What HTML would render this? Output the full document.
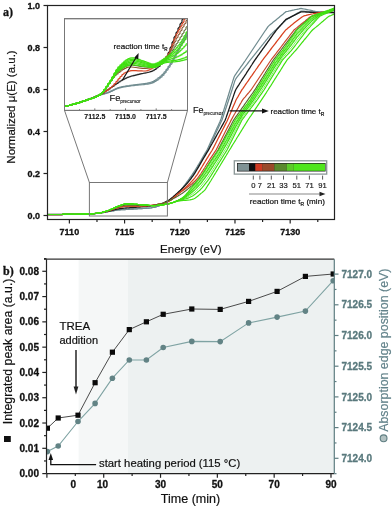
<!DOCTYPE html>
<html><head><meta charset="utf-8"><style>html,body{margin:0;padding:0;background:#fff;width:392px;height:508px;overflow:hidden}svg{display:block;will-change:transform} text{stroke-linejoin:round} .b{}</style></head>
<body><svg width="392" height="508" viewBox="0 0 392 508"><clipPath id="ca"><rect x="47.5" y="5.5" width="287.0" height="214.0"/></clipPath><g clip-path="url(#ca)"><polyline points="47,214.5 48,214.5 49,214.5 50,214.5 51,214.5 52,214.5 53,214.5 54,214.5 55,214.5 56,214.5 57,214.5 58,214.5 59,214.5 60,214.5 61,214.5 62,214.5 63,214.4 64,214.4 65,214.4 66,214.4 67,214.4 68,214.4 69,214.4 70,214.4 71,214.4 72,214.4 73,214.4 74,214.4 75,214.3 76,214.3 77,214.3 78,214.3 79,214.3 80,214.3 81,214.2 82,214.2 83,214.2 84,214.2 85,214.1 86,214.1 87,214.1 88,214.0 89,214.0 90,214.0 91,213.9 92,213.8 93,213.8 94,213.7 95,213.6 96,213.5 97,213.3 98,213.2 99,213.1 100,213.0 101,212.9 102,212.7 103,212.6 104,212.4 105,212.2 106,212.0 107,211.8 108,211.7 109,211.5 110,211.3 111,211.1 112,210.9 113,210.8 114,210.6 115,210.4 116,210.3 117,210.1 118,210.0 119,209.9 120,209.8 121,209.7 122,209.7 123,209.6 124,209.5 125,209.5 126,209.4 127,209.3 128,209.3 129,209.2 130,209.2 131,209.1 132,209.0 133,209.0 134,208.9 135,208.9 136,208.8 137,208.8 138,208.7 139,208.7 140,208.6 141,208.5 142,208.5 143,208.4 144,208.4 145,208.3 146,208.3 147,208.2 148,208.2 149,208.1 150,208.0 151,207.9 152,207.7 153,207.5 154,207.3 155,207.1 156,206.8 157,206.5 158,206.2 159,205.8 160,205.5 161,205.1 162,204.7 163,204.2 164,203.6 165,203.0 166,202.4 167,201.8 168,201.1 169,200.4 170,199.7 171,199.0 172,198.3 173,197.5 174,196.6 175,195.8 176,194.9 177,194.0 178,193.0 179,192.0 180,190.9 181,189.8 182,188.5 183,187.3 184,186.0 185,184.7 186,183.3 187,181.9 188,180.6 189,179.2 190,177.7 191,176.3 192,174.9 193,173.4 194,171.9 195,170.4 196,168.7 197,167.1 198,165.4 199,163.7 200,162.0 201,160.3 202,158.5 203,156.8 204,155.1 205,153.4 206,151.7 207,150.0 208,147.9 209,145.7 210,143.4 211,141.2 212,139.1 213,136.9 214,134.7 215,132.5 216,130.3 217,128.1 218,125.9 219,123.7 220,121.5 221,119.0 222,115.8 223,112.6 224,109.4 225,106.1 226,102.9 227,99.7 228,96.5 229,93.2 230,90.0 231,86.8 232,83.6 233,80.4 234,77.3 235,75.3 236,73.9 237,72.4 238,71.0 239,69.6 240,68.2 241,66.7 242,65.3 243,63.9 244,62.4 245,61.0 246,59.5 247,58.0 248,56.5 249,55.0 250,53.5 251,52.0 252,50.5 253,49.0 254,47.5 255,46.0 256,44.5 257,43.0 258,41.5 259,40.0 260,38.5 261,37.0 262,35.5 263,34.0 264,32.5 265,31.0 266,29.6 267,28.1 268,26.7 269,25.6 270,24.8 271,24.0 272,23.2 273,22.3 274,21.5 275,20.7 276,19.9 277,19.1 278,18.2 279,17.4 280,16.6 281,15.8 282,15.0 283,14.2 284,13.3 285,12.5 286,11.7 287,11.5 288,11.3 289,11.0 290,10.8 291,10.6 292,10.4 293,10.2 294,10.0 295,9.7 296,9.5 297,9.3 298,9.1 299,8.9 300,8.6 301,8.4 302,8.6 303,8.8 304,9.0 305,9.2 306,9.4 307,9.6 308,9.8 309,10.0 310,10.2 311,10.4 312,10.6 313,10.9 314,11.1 315,11.3 316,11.5 317,11.7 318,11.7 319,11.8 320,11.8 321,11.9 322,11.9 323,12.0 324,12.0 325,12.1 326,12.1 327,12.2 328,12.2 329,12.2 330,12.3 331,12.3 332,12.4 333,12.4 334,12.5 335,12.5" fill="none" stroke="#6f8b8f" stroke-width="1.25"/><polyline points="47,214.5 48,214.5 49,214.5 50,214.5 51,214.5 52,214.5 53,214.5 54,214.5 55,214.5 56,214.5 57,214.5 58,214.5 59,214.5 60,214.5 61,214.5 62,214.5 63,214.4 64,214.4 65,214.4 66,214.4 67,214.4 68,214.4 69,214.4 70,214.4 71,214.4 72,214.4 73,214.4 74,214.4 75,214.3 76,214.3 77,214.3 78,214.3 79,214.3 80,214.3 81,214.2 82,214.2 83,214.2 84,214.2 85,214.1 86,214.1 87,214.1 88,214.0 89,214.0 90,214.0 91,213.9 92,213.8 93,213.8 94,213.7 95,213.6 96,213.5 97,213.3 98,213.2 99,213.1 100,213.0 101,212.9 102,212.7 103,212.6 104,212.4 105,212.2 106,212.0 107,211.8 108,211.7 109,211.5 110,211.3 111,211.1 112,210.9 113,210.8 114,210.6 115,210.4 116,210.3 117,210.1 118,210.0 119,209.9 120,209.8 121,209.7 122,209.7 123,209.6 124,209.5 125,209.5 126,209.4 127,209.3 128,209.3 129,209.2 130,209.2 131,209.1 132,209.0 133,209.0 134,208.9 135,208.9 136,208.8 137,208.8 138,208.7 139,208.7 140,208.6 141,208.5 142,208.5 143,208.4 144,208.4 145,208.3 146,208.3 147,208.2 148,208.2 149,208.1 150,208.0 151,207.9 152,207.7 153,207.5 154,207.3 155,207.1 156,206.8 157,206.5 158,206.2 159,205.8 160,205.5 161,205.1 162,204.7 163,204.2 164,203.6 165,203.0 166,202.4 167,201.8 168,201.1 169,200.4 170,199.7 171,199.0 172,198.2 173,197.4 174,196.6 175,195.7 176,194.9 177,193.9 178,193.0 179,192.0 180,191.0 181,189.9 182,188.8 183,187.6 184,186.4 185,185.2 186,183.9 187,182.6 188,181.3 189,180.0 190,178.6 191,177.3 192,175.8 193,174.4 194,172.9 195,171.4 196,169.8 197,168.2 198,166.6 199,164.9 200,163.2 201,161.5 202,159.8 203,158.1 204,156.4 205,154.7 206,153.0 207,151.3 208,149.6 209,147.5 210,145.4 211,143.2 212,141.1 213,139.0 214,136.9 215,134.8 216,132.7 217,130.6 218,128.5 219,126.3 220,124.2 221,122.1 222,120.0 223,117.0 224,114.0 225,111.0 226,108.0 227,105.0 228,102.0 229,99.0 230,96.0 231,93.0 232,90.0 233,86.8 234,83.6 235,80.4 236,78.5 237,77.2 238,75.9 239,74.6 240,73.3 241,72.0 242,70.7 243,69.4 244,68.1 245,66.9 246,65.6 247,64.3 248,63.0 249,61.7 250,60.4 251,59.1 252,57.9 253,56.6 254,55.4 255,54.1 256,52.9 257,51.6 258,50.3 259,49.1 260,47.8 261,46.6 262,45.3 263,44.1 264,42.8 265,41.6 266,40.3 267,39.1 268,37.8 269,36.6 270,35.3 271,34.3 272,33.4 273,32.4 274,31.5 275,30.5 276,29.6 277,28.6 278,27.6 279,26.7 280,25.7 281,24.8 282,23.8 283,22.9 284,21.9 285,21.0 286,20.0 287,19.4 288,18.8 289,18.2 290,17.6 291,17.0 292,16.4 293,15.8 294,15.2 295,14.6 296,14.0 297,13.4 298,12.8 299,12.3 300,11.7 301,11.1 302,11.1 303,11.1 304,11.2 305,11.3 306,11.3 307,11.4 308,11.5 309,11.5 310,11.6 311,11.7 312,11.7 313,11.8 314,11.9 315,11.9 316,12.0 317,12.0 318,12.1 319,12.1 320,12.1 321,12.1 322,12.2 323,12.2 324,12.2 325,12.2 326,12.3 327,12.3 328,12.3 329,12.4 330,12.4 331,12.4 332,12.4 333,12.5 334,12.5 335,12.5" fill="none" stroke="#6f8b8f" stroke-width="1.25"/><polyline points="47,214.5 48,214.5 49,214.5 50,214.5 51,214.5 52,214.5 53,214.5 54,214.5 55,214.5 56,214.5 57,214.5 58,214.5 59,214.5 60,214.5 61,214.5 62,214.5 63,214.4 64,214.4 65,214.4 66,214.4 67,214.4 68,214.4 69,214.4 70,214.4 71,214.4 72,214.4 73,214.4 74,214.4 75,214.3 76,214.3 77,214.3 78,214.3 79,214.3 80,214.3 81,214.2 82,214.2 83,214.2 84,214.2 85,214.1 86,214.1 87,214.1 88,214.0 89,214.0 90,214.0 91,213.9 92,213.8 93,213.7 94,213.6 95,213.5 96,213.4 97,213.3 98,213.2 99,213.0 100,212.9 101,212.8 102,212.6 103,212.4 104,212.2 105,212.0 106,211.7 107,211.5 108,211.3 109,211.0 110,210.8 111,210.6 112,210.3 113,210.1 114,209.8 115,209.6 116,209.4 117,209.2 118,209.0 119,208.8 120,208.7 121,208.6 122,208.4 123,208.3 124,208.2 125,208.1 126,208.0 127,207.9 128,207.8 129,207.8 130,207.7 131,207.6 132,207.5 133,207.5 134,207.4 135,207.4 136,207.3 137,207.2 138,207.2 139,207.1 140,207.0 141,206.9 142,206.8 143,206.7 144,206.7 145,206.6 146,206.5 147,206.4 148,206.2 149,206.1 150,206.0 151,205.9 152,205.7 153,205.5 154,205.4 155,205.2 156,205.0 157,204.7 158,204.5 159,204.3 160,204.0 161,203.7 162,203.4 163,203.0 164,202.6 165,202.2 166,201.7 167,201.2 168,200.7 169,200.1 170,199.4 171,198.6 172,197.8 173,197.0 174,196.1 175,195.2 176,194.3 177,193.4 178,192.5 179,191.6 180,190.7 181,189.7 182,188.7 183,187.7 184,186.7 185,185.7 186,184.6 187,183.5 188,182.3 189,181.1 190,179.9 191,178.6 192,177.2 193,175.8 194,174.3 195,172.8 196,171.2 197,169.5 198,167.8 199,166.1 200,164.4 201,162.6 202,160.9 203,159.2 204,157.5 205,155.8 206,154.1 207,152.4 208,150.8 209,149.1 210,147.3 211,145.5 212,143.8 213,142.0 214,140.2 215,138.4 216,136.6 217,134.8 218,133.0 219,131.2 220,129.5 221,127.7 222,125.9 223,124.1 224,122.3 225,120.5 226,117.9 227,115.0 228,112.1 229,109.1 230,106.2 231,103.2 232,100.3 233,97.4 234,94.4 235,91.5 236,89.2 237,87.7 238,86.1 239,84.6 240,83.0 241,81.5 242,79.9 243,78.4 244,76.9 245,75.3 246,73.8 247,72.2 248,70.7 249,69.1 250,67.6 251,66.0 252,64.5 253,62.9 254,61.4 255,59.9 256,58.5 257,57.1 258,55.7 259,54.3 260,52.9 261,51.5 262,50.1 263,48.7 264,47.3 265,45.9 266,44.5 267,43.1 268,41.7 269,40.3 270,38.9 271,37.5 272,36.1 273,34.7 274,33.3 275,32.0 276,30.6 277,29.3 278,28.2 279,27.1 280,26.0 281,24.9 282,23.8 283,22.6 284,21.5 285,20.4 286,19.3 287,18.8 288,18.3 289,17.8 290,17.3 291,16.8 292,16.3 293,15.8 294,15.3 295,14.8 296,14.3 297,13.8 298,13.3 299,12.8 300,12.3 301,11.8 302,11.8 303,11.8 304,11.9 305,11.9 306,12.0 307,12.1 308,12.1 309,12.2 310,12.3 311,12.3 312,12.4 313,12.4 314,12.5 315,12.6 316,12.6 317,12.6 318,12.6 319,12.6 320,12.6 321,12.6 322,12.6 323,12.6 324,12.6 325,12.6 326,12.5 327,12.5 328,12.5 329,12.5 330,12.5 331,12.5 332,12.5 333,12.5 334,12.5 335,12.5" fill="none" stroke="#1a1a1a" stroke-width="1.3"/><polyline points="47,214.5 48,214.5 49,214.5 50,214.5 51,214.5 52,214.5 53,214.5 54,214.5 55,214.5 56,214.5 57,214.5 58,214.5 59,214.5 60,214.5 61,214.5 62,214.5 63,214.4 64,214.4 65,214.4 66,214.4 67,214.4 68,214.4 69,214.4 70,214.4 71,214.4 72,214.4 73,214.4 74,214.4 75,214.3 76,214.3 77,214.3 78,214.3 79,214.3 80,214.3 81,214.2 82,214.2 83,214.2 84,214.2 85,214.1 86,214.1 87,214.1 88,214.0 89,214.0 90,214.0 91,213.9 92,213.8 93,213.7 94,213.7 95,213.5 96,213.4 97,213.3 98,213.2 99,213.0 100,212.9 101,212.7 102,212.5 103,212.3 104,212.1 105,211.8 106,211.5 107,211.2 108,210.9 109,210.6 110,210.3 111,210.0 112,209.6 113,209.3 114,208.9 115,208.5 116,208.2 117,207.9 118,207.6 119,207.4 120,207.2 121,207.0 122,206.8 123,206.6 124,206.5 125,206.4 126,206.3 127,206.3 128,206.2 129,206.2 130,206.2 131,206.2 132,206.1 133,206.1 134,206.1 135,206.1 136,206.1 137,206.1 138,206.1 139,206.0 140,206.0 141,206.0 142,205.9 143,205.9 144,205.9 145,205.8 146,205.8 147,205.7 148,205.6 149,205.6 150,205.5 151,205.4 152,205.3 153,205.2 154,205.1 155,204.9 156,204.7 157,204.6 158,204.4 159,204.2 160,204.0 161,203.8 162,203.6 163,203.4 164,203.1 165,202.8 166,202.5 167,202.2 168,201.7 169,201.2 170,200.6 171,199.9 172,199.2 173,198.3 174,197.5 175,196.6 176,195.7 177,194.8 178,194.0 179,193.2 180,192.3 181,191.5 182,190.7 183,189.8 184,188.9 185,188.1 186,187.2 187,186.2 188,185.3 189,184.3 190,183.3 191,182.2 192,181.1 193,180.0 194,178.8 195,177.6 196,176.2 197,174.8 198,173.3 199,171.7 200,170.1 201,168.4 202,166.8 203,165.1 204,163.4 205,161.8 206,160.1 207,158.4 208,156.8 209,155.2 210,153.6 211,152.0 212,150.5 213,148.6 214,146.7 215,144.7 216,142.7 217,140.8 218,138.8 219,136.9 220,134.9 221,132.9 222,131.0 223,129.0 224,127.1 225,125.1 226,123.1 227,121.2 228,119.0 229,116.7 230,114.3 231,111.9 232,109.5 233,107.1 234,104.8 235,102.4 236,100.0 237,98.3 238,96.6 239,94.8 240,93.1 241,91.4 242,89.7 243,88.3 244,86.8 245,85.4 246,83.9 247,82.5 248,81.1 249,79.6 250,78.2 251,76.7 252,75.3 253,73.8 254,72.4 255,71.0 256,69.5 257,68.1 258,66.6 259,65.2 260,63.8 261,62.3 262,60.9 263,59.5 264,58.2 265,56.9 266,55.6 267,54.3 268,53.0 269,51.7 270,50.3 271,49.0 272,47.7 273,46.4 274,45.1 275,43.8 276,42.5 277,41.2 278,39.9 279,38.6 280,37.3 281,36.0 282,34.7 283,33.4 284,32.1 285,30.8 286,29.7 287,28.9 288,28.0 289,27.2 290,26.4 291,25.6 292,24.8 293,23.9 294,23.1 295,22.3 296,21.5 297,20.7 298,19.9 299,19.2 300,18.5 301,17.8 302,17.1 303,16.4 304,15.8 305,15.6 306,15.4 307,15.1 308,14.9 309,14.7 310,14.5 311,14.2 312,14.0 313,13.8 314,13.5 315,13.3 316,13.2 317,13.0 318,12.8 319,12.6 320,12.5 321,12.3 322,12.1 323,12.0 324,11.8 325,11.6 326,11.5 327,11.3 328,11.1 329,10.9 330,10.8 331,10.6 332,10.4 333,10.3 334,10.1 335,10.0" fill="none" stroke="#d8401e" stroke-width="1.25"/><polyline points="47,214.5 48,214.5 49,214.5 50,214.5 51,214.5 52,214.5 53,214.5 54,214.5 55,214.5 56,214.5 57,214.5 58,214.5 59,214.5 60,214.5 61,214.5 62,214.5 63,214.4 64,214.4 65,214.4 66,214.4 67,214.4 68,214.4 69,214.4 70,214.4 71,214.4 72,214.4 73,214.4 74,214.4 75,214.3 76,214.3 77,214.3 78,214.3 79,214.3 80,214.3 81,214.2 82,214.2 83,214.2 84,214.2 85,214.1 86,214.1 87,214.1 88,214.0 89,214.0 90,214.0 91,213.9 92,213.8 93,213.7 94,213.7 95,213.5 96,213.4 97,213.3 98,213.2 99,213.0 100,212.9 101,212.7 102,212.5 103,212.3 104,212.1 105,211.8 106,211.5 107,211.2 108,210.9 109,210.6 110,210.3 111,210.0 112,209.6 113,209.3 114,208.9 115,208.5 116,208.2 117,207.9 118,207.6 119,207.4 120,207.2 121,207.0 122,206.8 123,206.6 124,206.5 125,206.4 126,206.3 127,206.3 128,206.2 129,206.2 130,206.2 131,206.2 132,206.1 133,206.1 134,206.1 135,206.1 136,206.1 137,206.1 138,206.1 139,206.0 140,206.0 141,206.0 142,205.9 143,205.9 144,205.9 145,205.8 146,205.8 147,205.7 148,205.6 149,205.6 150,205.5 151,205.4 152,205.3 153,205.2 154,205.1 155,204.9 156,204.7 157,204.6 158,204.4 159,204.2 160,204.0 161,203.8 162,203.6 163,203.4 164,203.1 165,202.8 166,202.5 167,202.2 168,201.7 169,201.2 170,200.6 171,199.9 172,199.1 173,198.2 174,197.4 175,196.5 176,195.6 177,194.8 178,194.0 179,193.2 180,192.5 181,191.8 182,191.1 183,190.4 184,189.7 185,189.0 186,188.3 187,187.6 188,186.8 189,186.1 190,185.3 191,184.5 192,183.7 193,182.8 194,181.9 195,181.0 196,180.0 197,178.9 198,177.7 199,176.3 200,174.9 201,173.5 202,171.9 203,170.4 204,168.8 205,167.2 206,165.5 207,163.9 208,162.3 209,160.7 210,159.1 211,157.6 212,156.1 213,154.6 214,153.1 215,151.6 216,150.1 217,148.2 218,146.2 219,144.2 220,142.3 221,140.3 222,138.3 223,136.3 224,134.3 225,132.3 226,130.3 227,128.3 228,126.4 229,124.4 230,122.4 231,120.4 232,118.6 233,116.8 234,115.0 235,113.3 236,111.5 237,109.7 238,108.0 239,106.2 240,104.4 241,102.7 242,100.9 243,99.4 244,98.2 245,97.1 246,95.9 247,94.7 248,93.5 249,92.4 250,91.2 251,90.0 252,88.5 253,87.0 254,85.5 255,84.0 256,82.5 257,81.0 258,79.5 259,78.0 260,76.5 261,75.0 262,73.5 263,72.0 264,70.5 265,69.0 266,67.5 267,66.0 268,64.5 269,63.0 270,61.5 271,60.0 272,58.7 273,57.4 274,56.1 275,54.8 276,53.5 277,52.2 278,50.9 279,49.6 280,48.3 281,47.0 282,45.7 283,44.3 284,43.0 285,41.7 286,40.4 287,39.1 288,37.8 289,36.5 290,35.2 291,33.9 292,32.6 293,31.3 294,30.0 295,29.2 296,28.4 297,27.6 298,26.8 299,25.9 300,25.1 301,24.3 302,23.5 303,22.7 304,21.9 305,21.1 306,20.2 307,19.4 308,18.6 309,17.8 310,17.0 311,16.7 312,16.4 313,16.1 314,15.9 315,15.6 316,15.3 317,15.0 318,14.7 319,14.4 320,14.1 321,13.9 322,13.6 323,13.3 324,13.0 325,12.7 326,12.4 327,12.1 328,11.9 329,11.6 330,11.3 331,11.0 332,10.7 333,10.4 334,10.1 335,10.0" fill="none" stroke="#c8482a" stroke-width="1.2"/><polyline points="47,214.5 48,214.5 49,214.5 50,214.5 51,214.5 52,214.5 53,214.5 54,214.5 55,214.5 56,214.5 57,214.5 58,214.5 59,214.5 60,214.5 61,214.5 62,214.5 63,214.4 64,214.4 65,214.4 66,214.4 67,214.4 68,214.4 69,214.4 70,214.4 71,214.4 72,214.4 73,214.4 74,214.4 75,214.3 76,214.3 77,214.3 78,214.3 79,214.3 80,214.3 81,214.2 82,214.2 83,214.2 84,214.2 85,214.1 86,214.1 87,214.1 88,214.0 89,214.0 90,214.0 91,213.9 92,213.8 93,213.7 94,213.6 95,213.5 96,213.4 97,213.3 98,213.1 99,213.0 100,212.9 101,212.7 102,212.5 103,212.2 104,212.0 105,211.7 106,211.4 107,211.0 108,210.7 109,210.4 110,210.1 111,209.7 112,209.3 113,208.9 114,208.5 115,208.0 116,207.6 117,207.3 118,206.9 119,206.7 120,206.3 121,206.0 122,205.8 123,205.5 124,205.3 125,205.2 126,205.2 127,205.2 128,205.2 129,205.2 130,205.2 131,205.2 132,205.2 133,205.2 134,205.2 135,205.2 136,205.2 137,205.3 138,205.3 139,205.3 140,205.3 141,205.3 142,205.3 143,205.4 144,205.4 145,205.4 146,205.5 147,205.5 148,205.5 149,205.5 150,205.6 151,205.5 152,205.5 153,205.4 154,205.2 155,205.0 156,204.9 157,204.7 158,204.4 159,204.2 160,204.0 161,203.8 162,203.5 163,203.2 164,202.8 165,202.5 166,202.1 167,201.7 168,201.2 169,200.8 170,200.3 171,199.9 172,199.4 173,198.8 174,198.3 175,197.7 176,197.2 177,196.6 178,196.0 179,195.3 180,194.7 181,194.0 182,193.4 183,192.7 184,191.9 185,191.2 186,190.5 187,189.7 188,188.9 189,188.1 190,187.3 191,186.4 192,185.6 193,184.7 194,183.8 195,182.9 196,181.9 197,180.9 198,180.0 199,178.8 200,177.6 201,176.2 202,174.8 203,173.3 204,171.7 205,170.1 206,168.5 207,166.9 208,165.2 209,163.6 210,162.0 211,160.5 212,159.0 213,157.5 214,156.0 215,154.5 216,153.0 217,151.5 218,150.0 219,148.1 220,146.2 221,144.3 222,142.4 223,140.4 224,138.5 225,136.6 226,134.7 227,132.8 228,130.9 229,129.0 230,127.1 231,125.2 232,123.2 233,121.3 234,119.6 235,118.2 236,116.7 237,115.3 238,113.9 239,112.5 240,111.0 241,109.6 242,108.2 243,106.8 244,105.4 245,103.9 246,102.5 247,101.1 248,99.7 249,98.2 250,96.8 251,95.4 252,94.0 253,92.6 254,91.1 255,89.7 256,88.1 257,86.4 258,84.8 259,83.2 260,81.6 261,79.9 262,78.3 263,76.7 264,75.1 265,73.5 266,71.8 267,70.2 268,68.6 269,67.0 270,65.4 271,63.7 272,62.1 273,60.5 274,59.1 275,57.8 276,56.5 277,55.2 278,53.9 279,52.6 280,51.3 281,50.0 282,48.7 283,47.3 284,46.0 285,44.7 286,43.4 287,42.1 288,40.8 289,39.5 290,38.2 291,36.9 292,35.6 293,34.3 294,33.0 295,31.7 296,30.4 297,29.4 298,28.5 299,27.6 300,26.7 301,25.8 302,24.9 303,24.0 304,23.1 305,22.2 306,21.4 307,20.5 308,19.6 309,18.7 310,17.8 311,16.9 312,16.0 313,15.7 314,15.4 315,15.1 316,14.8 317,14.4 318,14.1 319,13.8 320,13.5 321,13.2 322,12.9 323,12.6 324,12.3 325,12.0 326,11.6 327,11.3 328,11.0 329,10.7 330,10.4 331,10.1 332,9.8 333,9.5 334,9.2 335,9.0" fill="none" stroke="#5a6a30" stroke-width="1.2"/><polyline points="47,214.5 48,214.5 49,214.5 50,214.5 51,214.5 52,214.5 53,214.5 54,214.5 55,214.5 56,214.5 57,214.5 58,214.5 59,214.5 60,214.5 61,214.5 62,214.5 63,214.4 64,214.4 65,214.4 66,214.4 67,214.4 68,214.4 69,214.4 70,214.4 71,214.4 72,214.4 73,214.4 74,214.4 75,214.3 76,214.3 77,214.3 78,214.3 79,214.3 80,214.3 81,214.2 82,214.2 83,214.2 84,214.2 85,214.1 86,214.1 87,214.1 88,214.0 89,214.0 90,214.0 91,213.9 92,213.8 93,213.7 94,213.6 95,213.5 96,213.4 97,213.3 98,213.1 99,213.0 100,212.8 101,212.6 102,212.4 103,212.1 104,211.9 105,211.5 106,211.2 107,210.9 108,210.5 109,210.2 110,209.8 111,209.4 112,209.0 113,208.5 114,208.0 115,207.6 116,207.1 117,206.7 118,206.3 119,205.9 120,205.6 121,205.2 122,204.8 123,204.5 124,204.3 125,204.1 126,204.0 127,204.0 128,204.0 129,204.0 130,204.1 131,204.1 132,204.1 133,204.2 134,204.3 135,204.3 136,204.4 137,204.4 138,204.5 139,204.5 140,204.6 141,204.7 142,204.7 143,204.8 144,204.9 145,205.0 146,205.1 147,205.2 148,205.3 149,205.4 150,205.5 151,205.5 152,205.6 153,205.6 154,205.6 155,205.6 156,205.5 157,205.5 158,205.4 159,205.3 160,205.2 161,205.1 162,204.9 163,204.8 164,204.6 165,204.4 166,204.3 167,204.1 168,203.9 169,203.7 170,203.4 171,203.1 172,202.8 173,202.5 174,202.1 175,201.7 176,201.3 177,200.8 178,200.4 179,199.9 180,199.4 181,198.8 182,198.3 183,197.6 184,196.8 185,196.0 186,195.0 187,194.0 188,192.9 189,191.8 190,190.7 191,189.7 192,188.6 193,187.5 194,186.4 195,185.3 196,184.1 197,182.9 198,181.6 199,180.4 200,179.1 201,177.7 202,176.3 203,174.9 204,173.5 205,172.1 206,170.6 207,169.1 208,167.7 209,166.2 210,164.7 211,163.2 212,161.7 213,160.2 214,158.8 215,157.3 216,155.8 217,154.4 218,152.9 219,151.3 220,149.6 221,147.8 222,146.0 223,144.2 224,142.4 225,140.7 226,138.9 227,137.1 228,135.3 229,133.4 230,131.6 231,129.8 232,127.9 233,126.1 234,124.3 235,122.4 236,120.9 237,119.4 238,117.9 239,116.5 240,115.0 241,113.6 242,112.1 243,110.7 244,109.4 245,108.0 246,106.6 247,105.3 248,103.9 249,102.6 250,101.2 251,99.6 252,98.1 253,96.6 254,95.1 255,93.5 256,92.0 257,90.4 258,88.9 259,87.3 260,85.7 261,84.1 262,82.5 263,81.0 264,79.4 265,77.8 266,76.2 267,74.6 268,72.9 269,71.3 270,69.7 271,68.1 272,66.5 273,64.9 274,63.3 275,61.7 276,60.4 277,59.1 278,57.8 279,56.4 280,55.1 281,53.8 282,52.5 283,51.2 284,49.8 285,48.5 286,47.1 287,45.7 288,44.4 289,43.0 290,41.6 291,40.2 292,38.9 293,37.5 294,36.1 295,34.7 296,33.2 297,31.8 298,30.9 299,29.9 300,28.9 301,27.9 302,26.9 303,25.9 304,24.9 305,23.9 306,23.0 307,22.0 308,21.0 309,20.1 310,19.1 311,18.2 312,17.2 313,16.7 314,16.3 315,15.8 316,15.4 317,14.9 318,14.5 319,14.0 320,13.6 321,13.2 322,12.8 323,12.5 324,12.1 325,11.7 326,11.4 327,11.0 328,10.6 329,10.3 330,9.9 331,9.6 332,9.2 333,8.8 334,8.5 335,8.3" fill="none" stroke="#5ae836" stroke-width="0.8"/><polyline points="47,214.5 48,214.5 49,214.5 50,214.5 51,214.5 52,214.5 53,214.5 54,214.5 55,214.5 56,214.5 57,214.5 58,214.5 59,214.5 60,214.5 61,214.5 62,214.5 63,214.4 64,214.4 65,214.4 66,214.4 67,214.4 68,214.4 69,214.4 70,214.4 71,214.4 72,214.4 73,214.4 74,214.4 75,214.3 76,214.3 77,214.3 78,214.3 79,214.3 80,214.3 81,214.2 82,214.2 83,214.2 84,214.2 85,214.1 86,214.1 87,214.1 88,214.0 89,214.0 90,214.0 91,213.9 92,213.8 93,213.7 94,213.6 95,213.5 96,213.4 97,213.3 98,213.1 99,213.0 100,212.8 101,212.6 102,212.4 103,212.1 104,211.9 105,211.5 106,211.2 107,210.9 108,210.5 109,210.2 110,209.8 111,209.4 112,209.0 113,208.5 114,208.0 115,207.6 116,207.1 117,206.7 118,206.3 119,205.9 120,205.6 121,205.2 122,204.8 123,204.5 124,204.3 125,204.1 126,204.0 127,204.0 128,204.0 129,204.0 130,204.1 131,204.1 132,204.1 133,204.2 134,204.3 135,204.3 136,204.4 137,204.4 138,204.5 139,204.5 140,204.6 141,204.7 142,204.7 143,204.8 144,204.9 145,205.0 146,205.1 147,205.2 148,205.3 149,205.4 150,205.5 151,205.5 152,205.6 153,205.6 154,205.6 155,205.6 156,205.5 157,205.5 158,205.4 159,205.3 160,205.2 161,205.1 162,204.9 163,204.8 164,204.6 165,204.4 166,204.2 167,204.1 168,203.9 169,203.7 170,203.4 171,203.1 172,202.8 173,202.5 174,202.2 175,201.8 176,201.4 177,201.0 178,200.6 179,200.1 180,199.7 181,199.3 182,198.8 183,198.3 184,197.7 185,197.0 186,196.2 187,195.4 188,194.6 189,193.7 190,192.9 191,192.0 192,191.1 193,190.2 194,189.2 195,188.2 196,187.1 197,186.0 198,184.9 199,183.8 200,182.6 201,181.4 202,180.1 203,178.7 204,177.4 205,176.0 206,174.6 207,173.2 208,171.8 209,170.3 210,168.8 211,167.3 212,165.7 213,164.2 214,162.7 215,161.2 216,159.7 217,158.2 218,156.7 219,155.1 220,153.4 221,151.6 222,149.9 223,148.2 224,146.5 225,144.7 226,143.0 227,141.3 228,139.4 229,137.5 230,135.6 231,133.7 232,131.9 233,130.0 234,128.1 235,126.2 236,124.5 237,122.8 238,121.2 239,119.6 240,117.9 241,116.3 242,114.7 243,113.3 244,112.0 245,110.6 246,109.3 247,107.9 248,106.5 249,105.2 250,103.8 251,102.4 252,100.9 253,99.4 254,98.0 255,96.5 256,95.0 257,93.5 258,92.0 259,90.5 260,89.0 261,87.4 262,85.9 263,84.4 264,82.8 265,81.2 266,79.6 267,78.0 268,76.4 269,74.8 270,73.2 271,71.6 272,69.9 273,68.3 274,66.7 275,65.1 276,63.7 277,62.3 278,60.9 279,59.4 280,58.0 281,56.6 282,55.2 283,53.9 284,52.6 285,51.3 286,50.1 287,48.8 288,47.5 289,46.2 290,45.0 291,43.7 292,42.4 293,41.0 294,39.7 295,38.3 296,36.9 297,35.5 298,34.4 299,33.3 300,32.2 301,31.2 302,30.1 303,29.0 304,27.9 305,26.8 306,25.7 307,24.6 308,23.6 309,22.6 310,21.6 311,20.6 312,19.6 313,19.0 314,18.3 315,17.6 316,17.0 317,16.3 318,15.7 319,15.0 320,14.4 321,14.0 322,13.6 323,13.2 324,12.8 325,12.5 326,12.1 327,11.7 328,11.3 329,10.9 330,10.6 331,10.2 332,9.8 333,9.4 334,9.0 335,8.8" fill="none" stroke="#5ae836" stroke-width="0.8"/><polyline points="47,214.5 48,214.5 49,214.5 50,214.5 51,214.5 52,214.5 53,214.5 54,214.5 55,214.5 56,214.5 57,214.5 58,214.5 59,214.5 60,214.5 61,214.5 62,214.5 63,214.4 64,214.4 65,214.4 66,214.4 67,214.4 68,214.4 69,214.4 70,214.4 71,214.4 72,214.4 73,214.4 74,214.4 75,214.3 76,214.3 77,214.3 78,214.3 79,214.3 80,214.3 81,214.2 82,214.2 83,214.2 84,214.2 85,214.1 86,214.1 87,214.1 88,214.0 89,214.0 90,214.0 91,213.9 92,213.8 93,213.7 94,213.6 95,213.5 96,213.4 97,213.3 98,213.1 99,213.0 100,212.8 101,212.6 102,212.4 103,212.1 104,211.9 105,211.5 106,211.2 107,210.9 108,210.5 109,210.2 110,209.8 111,209.4 112,209.0 113,208.5 114,208.0 115,207.6 116,207.1 117,206.7 118,206.3 119,205.9 120,205.6 121,205.2 122,204.8 123,204.5 124,204.3 125,204.1 126,204.0 127,204.0 128,204.0 129,204.0 130,204.1 131,204.1 132,204.1 133,204.2 134,204.3 135,204.3 136,204.4 137,204.4 138,204.5 139,204.5 140,204.6 141,204.7 142,204.7 143,204.8 144,204.9 145,205.0 146,205.1 147,205.2 148,205.3 149,205.4 150,205.5 151,205.5 152,205.6 153,205.6 154,205.6 155,205.6 156,205.5 157,205.5 158,205.4 159,205.3 160,205.2 161,205.0 162,204.9 163,204.7 164,204.6 165,204.4 166,204.2 167,204.1 168,203.9 169,203.7 170,203.4 171,203.2 172,202.9 173,202.6 174,202.2 175,201.9 176,201.5 177,201.2 178,200.8 179,200.5 180,200.2 181,199.8 182,199.5 183,199.1 184,198.7 185,198.3 186,197.8 187,197.3 188,196.7 189,196.2 190,195.6 191,195.0 192,194.3 193,193.6 194,192.8 195,192.0 196,191.1 197,190.1 198,189.2 199,188.2 200,187.2 201,186.1 202,184.9 203,183.6 204,182.3 205,181.0 206,179.7 207,178.4 208,177.1 209,175.6 210,174.0 211,172.5 212,170.9 213,169.3 214,167.8 215,166.2 216,164.6 217,163.1 218,161.5 219,159.9 220,158.2 221,156.6 222,154.9 223,153.3 224,151.6 225,150.0 226,148.3 227,146.7 228,144.7 229,142.8 230,140.8 231,138.9 232,136.9 233,135.0 234,133.0 235,131.0 236,129.1 237,127.3 238,125.4 239,123.6 240,121.7 241,119.8 242,118.0 243,116.6 244,115.3 245,114.0 246,112.6 247,111.3 248,109.9 249,108.6 250,107.2 251,105.9 252,104.5 253,103.1 254,101.7 255,100.3 256,98.9 257,97.6 258,96.1 259,94.6 260,93.2 261,91.7 262,90.2 263,88.7 264,87.3 265,85.7 266,84.0 267,82.4 268,80.8 269,79.2 270,77.6 271,76.0 272,74.3 273,72.7 274,71.1 275,69.5 276,67.9 277,66.4 278,64.9 279,63.3 280,61.8 281,60.2 282,58.7 283,57.3 284,56.2 285,55.0 286,53.9 287,52.7 288,51.6 289,50.4 290,49.3 291,48.1 292,47.0 293,45.6 294,44.3 295,42.9 296,41.6 297,40.3 298,39.0 299,37.8 300,36.6 301,35.3 302,34.1 303,32.9 304,31.6 305,30.4 306,29.2 307,27.9 308,26.9 309,25.9 310,24.8 311,23.8 312,22.7 313,21.8 314,20.9 315,20.0 316,19.0 317,18.1 318,17.2 319,16.3 320,15.4 321,15.0 322,14.6 323,14.2 324,13.8 325,13.4 326,13.0 327,12.6 328,12.2 329,11.8 330,11.4 331,11.0 332,10.6 333,10.2 334,9.8 335,9.6" fill="none" stroke="#5ae836" stroke-width="0.8"/><polyline points="47,214.5 48,214.5 49,214.5 50,214.5 51,214.5 52,214.5 53,214.5 54,214.5 55,214.5 56,214.5 57,214.5 58,214.5 59,214.5 60,214.5 61,214.5 62,214.5 63,214.4 64,214.4 65,214.4 66,214.4 67,214.4 68,214.4 69,214.4 70,214.4 71,214.4 72,214.4 73,214.4 74,214.4 75,214.3 76,214.3 77,214.3 78,214.3 79,214.3 80,214.3 81,214.2 82,214.2 83,214.2 84,214.2 85,214.1 86,214.1 87,214.1 88,214.0 89,214.0 90,214.0 91,213.9 92,213.8 93,213.7 94,213.6 95,213.5 96,213.4 97,213.3 98,213.1 99,213.0 100,212.8 101,212.6 102,212.4 103,212.1 104,211.9 105,211.5 106,211.2 107,210.9 108,210.5 109,210.2 110,209.8 111,209.4 112,209.0 113,208.5 114,208.0 115,207.6 116,207.1 117,206.7 118,206.3 119,205.9 120,205.6 121,205.2 122,204.8 123,204.5 124,204.3 125,204.1 126,204.0 127,204.0 128,204.0 129,204.0 130,204.1 131,204.1 132,204.1 133,204.2 134,204.3 135,204.3 136,204.4 137,204.4 138,204.5 139,204.5 140,204.6 141,204.7 142,204.7 143,204.8 144,204.9 145,205.0 146,205.1 147,205.2 148,205.3 149,205.4 150,205.5 151,205.5 152,205.6 153,205.6 154,205.6 155,205.6 156,205.5 157,205.5 158,205.4 159,205.3 160,205.2 161,205.1 162,204.9 163,204.8 164,204.6 165,204.4 166,204.3 167,204.1 168,203.9 169,203.7 170,203.4 171,203.1 172,202.8 173,202.5 174,202.1 175,201.7 176,201.2 177,200.7 178,200.3 179,199.7 180,199.2 181,198.6 182,198.0 183,197.3 184,196.4 185,195.5 186,194.4 187,193.2 188,192.1 189,190.9 190,189.7 191,188.5 192,187.4 193,186.2 194,185.0 195,183.8 196,182.6 197,181.3 198,180.0 199,178.7 200,177.3 201,175.9 202,174.5 203,173.0 204,171.6 205,170.1 206,168.6 207,167.1 208,165.6 209,164.1 210,162.6 211,161.2 212,159.7 213,158.3 214,156.8 215,155.4 216,153.9 217,152.5 218,151.0 219,149.5 220,147.7 221,145.8 222,144.0 223,142.2 224,140.4 225,138.6 226,136.8 227,135.0 228,133.2 229,131.4 230,129.6 231,127.8 232,126.0 233,124.2 234,122.3 235,120.5 236,119.0 237,117.7 238,116.3 239,114.9 240,113.6 241,112.2 242,110.8 243,109.5 244,108.1 245,106.7 246,105.3 247,104.0 248,102.6 249,101.2 250,99.8 251,98.3 252,96.7 253,95.2 254,93.6 255,92.0 256,90.5 257,88.9 258,87.3 259,85.7 260,84.1 261,82.5 262,80.9 263,79.3 264,77.6 265,76.0 266,74.4 267,72.8 268,71.2 269,69.6 270,68.0 271,66.4 272,64.8 273,63.2 274,61.6 275,60.0 276,58.7 277,57.5 278,56.2 279,54.9 280,53.7 281,52.4 282,51.1 283,49.9 284,48.4 285,47.0 286,45.6 287,44.2 288,42.8 289,41.3 290,39.9 291,38.5 292,37.1 293,35.7 294,34.3 295,32.8 296,31.4 297,30.0 298,29.1 299,28.1 300,27.2 301,26.3 302,25.3 303,24.4 304,23.5 305,22.5 306,21.6 307,20.7 308,19.7 309,18.8 310,17.9 311,16.9 312,16.0 313,15.6 314,15.3 315,14.9 316,14.6 317,14.2 318,13.9 319,13.5 320,13.2 321,12.8 322,12.4 323,12.1 324,11.7 325,11.4 326,11.0 327,10.7 328,10.3 329,10.0 330,9.6 331,9.2 332,8.9 333,8.5 334,8.2 335,8.0" fill="none" stroke="#3fe010" stroke-width="1.2"/><polyline points="47,214.5 48,214.5 49,214.5 50,214.5 51,214.5 52,214.5 53,214.5 54,214.5 55,214.5 56,214.5 57,214.5 58,214.5 59,214.5 60,214.5 61,214.5 62,214.5 63,214.4 64,214.4 65,214.4 66,214.4 67,214.4 68,214.4 69,214.4 70,214.4 71,214.4 72,214.4 73,214.4 74,214.4 75,214.3 76,214.3 77,214.3 78,214.3 79,214.3 80,214.3 81,214.2 82,214.2 83,214.2 84,214.2 85,214.1 86,214.1 87,214.1 88,214.0 89,214.0 90,214.0 91,213.9 92,213.8 93,213.7 94,213.6 95,213.5 96,213.4 97,213.3 98,213.1 99,213.0 100,212.8 101,212.6 102,212.4 103,212.1 104,211.9 105,211.5 106,211.2 107,210.9 108,210.5 109,210.2 110,209.8 111,209.4 112,209.0 113,208.5 114,208.0 115,207.6 116,207.1 117,206.7 118,206.3 119,205.9 120,205.6 121,205.2 122,204.8 123,204.5 124,204.3 125,204.1 126,204.0 127,204.0 128,204.0 129,204.0 130,204.1 131,204.1 132,204.1 133,204.2 134,204.3 135,204.3 136,204.4 137,204.4 138,204.5 139,204.5 140,204.6 141,204.7 142,204.7 143,204.8 144,204.9 145,205.0 146,205.1 147,205.2 148,205.3 149,205.4 150,205.5 151,205.5 152,205.6 153,205.6 154,205.6 155,205.6 156,205.5 157,205.5 158,205.4 159,205.3 160,205.2 161,205.1 162,204.9 163,204.8 164,204.6 165,204.4 166,204.2 167,204.1 168,203.9 169,203.7 170,203.4 171,203.1 172,202.8 173,202.5 174,202.1 175,201.7 176,201.3 177,200.9 178,200.5 179,200.0 180,199.5 181,199.0 182,198.5 183,197.9 184,197.3 185,196.5 186,195.6 187,194.7 188,193.7 189,192.8 190,191.8 191,190.9 192,189.9 193,188.9 194,187.8 195,186.7 196,185.6 197,184.5 198,183.3 199,182.1 200,180.8 201,179.5 202,178.2 203,176.8 204,175.4 205,174.0 206,172.6 207,171.2 208,169.7 209,168.2 210,166.7 211,165.2 212,163.7 213,162.2 214,160.7 215,159.3 216,157.8 217,156.3 218,154.8 219,153.2 220,151.5 221,149.7 222,148.0 223,146.2 224,144.5 225,142.7 226,141.0 227,139.2 228,137.3 229,135.5 230,133.6 231,131.8 232,129.9 233,128.0 234,126.2 235,124.3 236,122.7 237,121.1 238,119.6 239,118.0 240,116.5 241,114.9 242,113.4 243,112.0 244,110.7 245,109.3 246,108.0 247,106.6 248,105.2 249,103.9 250,102.5 251,101.0 252,99.5 253,98.0 254,96.5 255,95.0 256,93.5 257,92.0 258,90.4 259,88.9 260,87.3 261,85.8 262,84.2 263,82.7 264,81.1 265,79.5 266,77.9 267,76.3 268,74.7 269,73.1 270,71.5 271,69.8 272,68.2 273,66.6 274,65.0 275,63.4 276,62.0 277,60.7 278,59.3 279,57.9 280,56.6 281,55.2 282,53.8 283,52.5 284,51.2 285,49.9 286,48.6 287,47.3 288,45.9 289,44.6 290,43.3 291,42.0 292,40.6 293,39.2 294,37.9 295,36.5 296,35.1 297,33.7 298,32.6 299,31.6 300,30.6 301,29.5 302,28.5 303,27.4 304,26.4 305,25.4 306,24.3 307,23.3 308,22.3 309,21.3 310,20.4 311,19.4 312,18.4 313,17.9 314,17.3 315,16.7 316,16.2 317,15.6 318,15.1 319,14.5 320,14.0 321,13.6 322,13.2 323,12.8 324,12.5 325,12.1 326,11.7 327,11.3 328,11.0 329,10.6 330,10.2 331,9.9 332,9.5 333,9.1 334,8.7 335,8.6" fill="none" stroke="#3fe010" stroke-width="1.2"/><polyline points="47,214.5 48,214.5 49,214.5 50,214.5 51,214.5 52,214.5 53,214.5 54,214.5 55,214.5 56,214.5 57,214.5 58,214.5 59,214.5 60,214.5 61,214.5 62,214.5 63,214.4 64,214.4 65,214.4 66,214.4 67,214.4 68,214.4 69,214.4 70,214.4 71,214.4 72,214.4 73,214.4 74,214.4 75,214.3 76,214.3 77,214.3 78,214.3 79,214.3 80,214.3 81,214.2 82,214.2 83,214.2 84,214.2 85,214.1 86,214.1 87,214.1 88,214.0 89,214.0 90,214.0 91,213.9 92,213.8 93,213.7 94,213.6 95,213.5 96,213.4 97,213.3 98,213.1 99,213.0 100,212.8 101,212.6 102,212.4 103,212.1 104,211.9 105,211.5 106,211.2 107,210.9 108,210.5 109,210.2 110,209.8 111,209.4 112,209.0 113,208.5 114,208.0 115,207.6 116,207.1 117,206.7 118,206.3 119,205.9 120,205.6 121,205.2 122,204.8 123,204.5 124,204.3 125,204.1 126,204.0 127,204.0 128,204.0 129,204.0 130,204.1 131,204.1 132,204.1 133,204.2 134,204.3 135,204.3 136,204.4 137,204.4 138,204.5 139,204.5 140,204.6 141,204.7 142,204.7 143,204.8 144,204.9 145,205.0 146,205.1 147,205.2 148,205.3 149,205.4 150,205.5 151,205.5 152,205.6 153,205.6 154,205.6 155,205.6 156,205.5 157,205.5 158,205.4 159,205.3 160,205.2 161,205.0 162,204.9 163,204.8 164,204.6 165,204.4 166,204.2 167,204.1 168,203.9 169,203.7 170,203.4 171,203.1 172,202.8 173,202.5 174,202.2 175,201.8 176,201.4 177,201.1 178,200.7 179,200.3 180,199.9 181,199.5 182,199.0 183,198.6 184,198.0 185,197.4 186,196.8 187,196.1 188,195.4 189,194.6 190,193.9 191,193.1 192,192.3 193,191.4 194,190.5 195,189.6 196,188.6 197,187.5 198,186.5 199,185.4 200,184.3 201,183.1 202,181.8 203,180.5 204,179.2 205,177.8 206,176.4 207,175.1 208,173.7 209,172.2 210,170.7 211,169.1 212,167.6 213,166.1 214,164.5 215,163.0 216,161.5 217,159.9 218,158.4 219,156.8 220,155.1 221,153.4 222,151.7 223,150.0 224,148.3 225,146.6 226,144.9 227,143.2 228,141.3 229,139.4 230,137.5 231,135.6 232,133.7 233,131.8 234,129.9 235,127.9 236,126.2 237,124.5 238,122.7 239,121.0 240,119.3 241,117.6 242,115.9 243,114.5 244,113.2 245,111.8 246,110.5 247,109.1 248,107.8 249,106.4 250,105.1 251,103.6 252,102.2 253,100.8 254,99.3 255,97.9 256,96.4 257,95.0 258,93.5 259,92.0 260,90.5 261,89.0 262,87.5 263,85.9 264,84.4 265,82.8 266,81.2 267,79.6 268,78.0 269,76.4 270,74.8 271,73.1 272,71.5 273,69.9 274,68.3 275,66.7 276,65.2 277,63.8 278,62.3 279,60.8 280,59.4 281,57.9 282,56.5 283,55.1 284,53.9 285,52.7 286,51.5 287,50.2 288,49.0 289,47.8 290,46.5 291,45.3 292,44.0 293,42.7 294,41.3 295,40.0 296,38.6 297,37.2 298,36.1 299,34.9 300,33.8 301,32.7 302,31.5 303,30.4 304,29.2 305,28.1 306,26.9 307,25.8 308,24.8 309,23.8 310,22.8 311,21.8 312,20.7 313,20.0 314,19.2 315,18.5 316,17.7 317,17.0 318,16.2 319,15.5 320,14.7 321,14.3 322,13.9 323,13.6 324,13.2 325,12.8 326,12.4 327,12.0 328,11.6 329,11.2 330,10.8 331,10.5 332,10.1 333,9.7 334,9.3 335,9.1" fill="none" stroke="#3fe010" stroke-width="1.2"/><polyline points="47,214.5 48,214.5 49,214.5 50,214.5 51,214.5 52,214.5 53,214.5 54,214.5 55,214.5 56,214.5 57,214.5 58,214.5 59,214.5 60,214.5 61,214.5 62,214.5 63,214.4 64,214.4 65,214.4 66,214.4 67,214.4 68,214.4 69,214.4 70,214.4 71,214.4 72,214.4 73,214.4 74,214.4 75,214.3 76,214.3 77,214.3 78,214.3 79,214.3 80,214.3 81,214.2 82,214.2 83,214.2 84,214.2 85,214.1 86,214.1 87,214.1 88,214.0 89,214.0 90,214.0 91,213.9 92,213.8 93,213.7 94,213.6 95,213.5 96,213.4 97,213.3 98,213.1 99,213.0 100,212.8 101,212.6 102,212.4 103,212.1 104,211.9 105,211.5 106,211.2 107,210.9 108,210.5 109,210.2 110,209.8 111,209.4 112,209.0 113,208.5 114,208.0 115,207.6 116,207.1 117,206.7 118,206.3 119,205.9 120,205.6 121,205.2 122,204.8 123,204.5 124,204.3 125,204.1 126,204.0 127,204.0 128,204.0 129,204.0 130,204.1 131,204.1 132,204.1 133,204.2 134,204.3 135,204.3 136,204.4 137,204.4 138,204.5 139,204.5 140,204.6 141,204.7 142,204.7 143,204.8 144,204.9 145,205.0 146,205.1 147,205.2 148,205.3 149,205.4 150,205.5 151,205.5 152,205.6 153,205.6 154,205.6 155,205.6 156,205.5 157,205.5 158,205.4 159,205.3 160,205.2 161,205.0 162,204.9 163,204.7 164,204.6 165,204.4 166,204.2 167,204.1 168,203.9 169,203.7 170,203.4 171,203.2 172,202.9 173,202.6 174,202.3 175,201.9 176,201.6 177,201.3 178,201.0 179,200.7 180,200.4 181,200.2 182,199.9 183,199.6 184,199.3 185,199.0 186,198.7 187,198.4 188,198.1 189,197.7 190,197.3 191,196.8 192,196.3 193,195.7 194,195.0 195,194.3 196,193.5 197,192.6 198,191.7 199,190.9 200,190.0 201,188.9 202,187.8 203,186.6 204,185.4 205,184.1 206,182.9 207,181.6 208,180.4 209,178.9 210,177.3 211,175.7 212,174.1 213,172.5 214,170.9 215,169.3 216,167.6 217,166.0 218,164.4 219,162.8 220,161.2 221,159.6 222,158.0 223,156.4 224,154.8 225,153.2 226,151.6 227,150.0 228,148.0 229,146.0 230,144.0 231,142.0 232,140.0 233,138.0 234,136.0 235,134.0 236,132.0 237,130.0 238,128.0 239,126.0 240,124.0 241,122.0 242,120.0 243,118.7 244,117.3 245,116.0 246,114.7 247,113.3 248,112.0 249,110.7 250,109.3 251,108.0 252,106.7 253,105.3 254,104.0 255,102.7 256,101.3 257,100.0 258,98.6 259,97.1 260,95.7 261,94.3 262,92.9 263,91.4 264,90.0 265,88.4 266,86.8 267,85.1 268,83.5 269,81.9 270,80.3 271,78.6 272,77.0 273,75.4 274,73.8 275,72.2 276,70.5 277,68.9 278,67.3 279,65.7 280,64.1 281,62.4 282,60.8 283,59.5 284,58.4 285,57.3 286,56.2 287,55.2 288,54.1 289,53.0 290,51.9 291,50.9 292,49.7 293,48.4 294,47.1 295,45.8 296,44.5 297,43.2 298,41.8 299,40.5 300,39.2 301,37.9 302,36.6 303,35.3 304,33.9 305,32.6 306,31.3 307,30.0 308,28.9 309,27.8 310,26.8 311,25.7 312,24.6 313,23.5 314,22.5 315,21.4 316,20.3 317,19.2 318,18.2 319,17.1 320,16.0 321,15.6 322,15.2 323,14.8 324,14.3 325,13.9 326,13.5 327,13.1 328,12.7 329,12.3 330,11.9 331,11.4 332,11.0 333,10.6 334,10.2 335,10.0" fill="none" stroke="#3fe010" stroke-width="1.2"/><polyline points="47,214.5 48,214.5 49,214.5 50,214.5 51,214.5 52,214.5 53,214.5 54,214.5 55,214.5 56,214.5 57,214.5 58,214.5 59,214.5 60,214.5 61,214.5 62,214.5 63,214.4 64,214.4 65,214.4 66,214.4 67,214.4 68,214.4 69,214.4 70,214.4 71,214.4 72,214.4 73,214.4 74,214.4 75,214.3 76,214.3 77,214.3 78,214.3 79,214.3 80,214.3 81,214.2 82,214.2 83,214.2 84,214.2 85,214.1 86,214.1 87,214.1 88,214.0 89,214.0 90,214.0 91,213.9 92,213.8 93,213.7 94,213.6 95,213.5 96,213.4 97,213.3 98,213.1 99,213.0 100,212.8 101,212.6 102,212.4 103,212.1 104,211.9 105,211.5 106,211.2 107,210.9 108,210.5 109,210.2 110,209.8 111,209.4 112,209.0 113,208.5 114,208.0 115,207.6 116,207.1 117,206.7 118,206.3 119,205.9 120,205.6 121,205.2 122,204.8 123,204.5 124,204.3 125,204.1 126,204.0 127,204.0 128,204.0 129,204.0 130,204.1 131,204.1 132,204.1 133,204.2 134,204.3 135,204.3 136,204.4 137,204.4 138,204.5 139,204.5 140,204.6 141,204.7 142,204.7 143,204.8 144,204.9 145,205.0 146,205.1 147,205.2 148,205.3 149,205.4 150,205.5 151,205.5 152,205.6 153,205.6 154,205.6 155,205.6 156,205.5 157,205.5 158,205.4 159,205.3 160,205.2 161,205.0 162,204.9 163,204.7 164,204.6 165,204.4 166,204.2 167,204.1 168,203.9 169,203.6 170,203.4 171,203.0 172,202.7 173,202.4 174,202.0 175,201.7 176,201.4 177,201.2 178,201.0 179,200.9 180,200.8 181,200.7 182,200.6 183,200.5 184,200.5 185,200.4 186,200.3 187,200.2 188,200.1 189,200.0 190,199.9 191,199.7 192,199.5 193,199.1 194,198.7 195,198.2 196,197.5 197,196.8 198,196.0 199,195.1 200,194.3 201,193.4 202,192.6 203,191.7 204,190.9 205,189.8 206,188.3 207,186.7 208,185.1 209,183.6 210,182.0 211,180.5 212,178.8 213,177.2 214,175.5 215,173.9 216,172.3 217,170.6 218,169.0 219,167.3 220,165.7 221,164.0 222,162.4 223,160.7 224,159.1 225,157.4 226,155.8 227,154.1 228,152.5 229,150.8 230,149.2 231,147.6 232,145.9 233,144.3 234,142.7 235,141.1 236,139.5 237,137.8 238,136.2 239,134.6 240,133.0 241,131.4 242,129.7 243,128.1 244,126.5 245,124.9 246,123.2 247,121.6 248,120.0 249,118.5 250,117.0 251,115.6 252,114.1 253,112.6 254,111.1 255,109.6 256,108.1 257,106.7 258,105.2 259,103.7 260,102.2 261,100.7 262,99.2 263,97.7 264,96.2 265,94.6 266,93.1 267,91.5 268,90.0 269,88.4 270,86.8 271,85.3 272,83.7 273,82.1 274,80.5 275,78.9 276,77.4 277,75.8 278,74.2 279,72.6 280,71.1 281,69.5 282,67.9 283,66.3 284,64.7 285,63.2 286,61.6 287,60.0 288,58.9 289,57.8 290,56.7 291,55.6 292,54.4 293,53.3 294,52.2 295,51.1 296,50.0 297,48.8 298,47.6 299,46.3 300,45.1 301,43.9 302,42.7 303,41.5 304,40.2 305,39.0 306,37.8 307,36.6 308,35.4 309,34.1 310,32.9 311,31.7 312,30.5 313,29.5 314,28.7 315,27.9 316,27.1 317,26.3 318,25.5 319,24.6 320,23.8 321,22.9 322,22.0 323,21.2 324,20.3 325,19.5 326,18.6 327,17.7 328,16.9 329,16.3 330,15.9 331,15.5 332,15.0 333,14.6 334,14.2 335,14.0" fill="none" stroke="#3fe010" stroke-width="1.2"/></g><rect x="47.5" y="5.5" width="287.0" height="214.0" fill="none" stroke="#222" stroke-width="1.2"/><line x1="43.5" y1="215.5" x2="47.5" y2="215.5" stroke="#222" stroke-width="1.2"/><text x="40" y="218.8" text-anchor="end" font-family='"Liberation Sans", sans-serif' font-weight="bold" font-size="9" fill="#111" stroke="#111" stroke-width="0.3">0.0</text><line x1="43.5" y1="173.5" x2="47.5" y2="173.5" stroke="#222" stroke-width="1.2"/><text x="40" y="176.8" text-anchor="end" font-family='"Liberation Sans", sans-serif' font-weight="bold" font-size="9" fill="#111" stroke="#111" stroke-width="0.3">0.2</text><line x1="43.5" y1="131.5" x2="47.5" y2="131.5" stroke="#222" stroke-width="1.2"/><text x="40" y="134.8" text-anchor="end" font-family='"Liberation Sans", sans-serif' font-weight="bold" font-size="9" fill="#111" stroke="#111" stroke-width="0.3">0.4</text><line x1="43.5" y1="89.5" x2="47.5" y2="89.5" stroke="#222" stroke-width="1.2"/><text x="40" y="92.8" text-anchor="end" font-family='"Liberation Sans", sans-serif' font-weight="bold" font-size="9" fill="#111" stroke="#111" stroke-width="0.3">0.6</text><line x1="43.5" y1="47.5" x2="47.5" y2="47.5" stroke="#222" stroke-width="1.2"/><text x="40" y="50.8" text-anchor="end" font-family='"Liberation Sans", sans-serif' font-weight="bold" font-size="9" fill="#111" stroke="#111" stroke-width="0.3">0.8</text><line x1="43.5" y1="5.5" x2="47.5" y2="5.5" stroke="#222" stroke-width="1.2"/><text x="40" y="8.8" text-anchor="end" font-family='"Liberation Sans", sans-serif' font-weight="bold" font-size="9" fill="#111" stroke="#111" stroke-width="0.3">1.0</text><line x1="69.38" y1="219.5" x2="69.38" y2="223.5" stroke="#222" stroke-width="1.2"/><text x="69.38" y="235" text-anchor="middle" font-family='"Liberation Sans", sans-serif' font-weight="bold" font-size="9" fill="#111" stroke="#111" stroke-width="0.3">7110</text><line x1="124.58" y1="219.5" x2="124.58" y2="223.5" stroke="#222" stroke-width="1.2"/><text x="124.58" y="235" text-anchor="middle" font-family='"Liberation Sans", sans-serif' font-weight="bold" font-size="9" fill="#111" stroke="#111" stroke-width="0.3">7115</text><line x1="179.77999999999997" y1="219.5" x2="179.77999999999997" y2="223.5" stroke="#222" stroke-width="1.2"/><text x="179.77999999999997" y="235" text-anchor="middle" font-family='"Liberation Sans", sans-serif' font-weight="bold" font-size="9" fill="#111" stroke="#111" stroke-width="0.3">7120</text><line x1="234.97999999999996" y1="219.5" x2="234.97999999999996" y2="223.5" stroke="#222" stroke-width="1.2"/><text x="234.97999999999996" y="235" text-anchor="middle" font-family='"Liberation Sans", sans-serif' font-weight="bold" font-size="9" fill="#111" stroke="#111" stroke-width="0.3">7125</text><line x1="290.18" y1="219.5" x2="290.18" y2="223.5" stroke="#222" stroke-width="1.2"/><text x="290.18" y="235" text-anchor="middle" font-family='"Liberation Sans", sans-serif' font-weight="bold" font-size="9" fill="#111" stroke="#111" stroke-width="0.3">7130</text><line x1="96.97999999999999" y1="219.5" x2="96.97999999999999" y2="222.0" stroke="#222" stroke-width="1.2"/><line x1="152.18" y1="219.5" x2="152.18" y2="222.0" stroke="#222" stroke-width="1.2"/><line x1="207.38" y1="219.5" x2="207.38" y2="222.0" stroke="#222" stroke-width="1.2"/><line x1="262.58" y1="219.5" x2="262.58" y2="222.0" stroke="#222" stroke-width="1.2"/><line x1="317.78" y1="219.5" x2="317.78" y2="222.0" stroke="#222" stroke-width="1.2"/><text x="190.8" y="253" text-anchor="middle" font-family='"Liberation Sans", sans-serif' font-size="11.5" fill="#111" stroke="#111" stroke-width="0.2">Energy (eV)</text><text transform="translate(15,107) rotate(-90)" text-anchor="middle" font-family='"Liberation Sans", sans-serif' font-size="11.5" fill="#111" stroke="#111" stroke-width="0.2">Normalized μ(E) (a.u.)</text><text x="3" y="16" font-family='"Liberation Serif", serif' font-weight="bold" font-size="12" fill="#111" stroke="#111" stroke-width="0.3">a)</text><rect x="89.4" y="182.5" width="78" height="33.5" fill="none" stroke="#777" stroke-width="1"/><line x1="89.4" y1="182.5" x2="64.5" y2="110.4" stroke="#777" stroke-width="1"/><line x1="167.4" y1="182.5" x2="187.5" y2="110.4" stroke="#777" stroke-width="1"/><rect x="64.5" y="18.7" width="123.0" height="91.7" fill="#fff" stroke="#777" stroke-width="1"/><clipPath id="ci"><rect x="64.5" y="18.7" width="123.0" height="91.7"/></clipPath><g clip-path="url(#ci)"><polyline points="64,106.4 66,106.2 66,106.0 68,105.7 68,105.5 70,105.3 70,105.0 72,104.7 72,104.5 74,104.2 74,103.9 76,103.7 76,103.4 78,103.1 78,102.8 80,102.4 80,102.1 82,101.8 82,101.4 84,101.1 84,100.8 86,100.4 86,100.1 88,99.7 88,99.3 90,99.0 90,98.6 92,98.2 92,97.8 94,97.4 94,97.1 96,96.7 96,96.3 98,95.9 98,95.6 100,95.2 100,94.9 102,94.5 102,94.2 104,93.9 104,93.6 106,93.3 106,93.0 108,92.6 108,92.2 110,91.8 110,91.3 112,90.9 112,90.4 114,89.9 114,89.4 116,88.9 116,88.4 118,88.0 118,87.6 120,87.3 120,87.0 122,86.8 122,86.6 124,86.4 124,86.2 126,86.1 126,85.9 128,85.8 128,85.7 130,85.5 130,85.4 132,85.3 132,85.1 134,85.0 134,84.8 136,84.7 136,84.6 138,84.5 138,84.3 140,84.2 140,84.1 142,84.0 142,83.9 144,83.8 144,83.6 146,83.5 146,83.3 148,83.1 148,82.9 150,82.7 150,82.5 152,82.1 152,81.7 154,81.3 154,80.7 156,80.1 156,79.5 158,78.8 158,78.0 160,77.2 160,76.4 162,75.6 162,74.6 164,73.5 164,72.3 166,71.0 166,69.7 168,68.2 168,66.8 170,65.2 170,63.7 172,62.2 172,60.6 174,58.8 174,57.0 176,55.1 176,53.2 178,51.2 178,49.2 180,47.2 180,45.2 182,43.3 182,41.4 184,39.6 184,37.8 186,36.0 186,34.2 188,32.4" fill="none" stroke="#6f8b8f" stroke-width="1.2"/><polyline points="64,106.4 66,106.2 66,106.0 68,105.7 68,105.5 70,105.3 70,105.0 72,104.7 72,104.5 74,104.2 74,103.9 76,103.7 76,103.4 78,103.1 78,102.8 80,102.4 80,102.1 82,101.8 82,101.4 84,101.1 84,100.8 86,100.4 86,100.1 88,99.7 88,99.3 90,98.9 90,98.6 92,98.2 92,97.8 94,97.4 94,97.0 96,96.6 96,96.2 98,95.9 98,95.5 100,95.2 100,94.9 102,94.6 102,94.3 104,94.0 104,93.8 106,93.5 106,93.2 108,92.9 108,92.6 110,92.2 110,91.7 112,91.3 112,90.8 114,90.3 114,89.9 116,89.4 116,89.0 118,88.5 118,88.2 120,87.9 120,87.6 122,87.4 122,87.2 124,87.0 124,86.8 126,86.7 126,86.5 128,86.4 128,86.2 130,86.1 130,86.0 132,85.8 132,85.7 134,85.6 134,85.4 136,85.3 136,85.2 138,85.1 138,85.0 140,84.9 140,84.9 142,84.8 142,84.7 144,84.6 144,84.5 146,84.3 146,84.2 148,84.1 148,83.9 150,83.7 150,83.5 152,83.2 152,82.8 154,82.4 154,81.8 156,81.3 156,80.6 158,80.0 158,79.3 160,78.5 160,77.7 162,76.9 162,76.0 164,74.9 164,73.7 166,72.4 166,71.1 168,69.7 168,68.2 170,66.7 170,65.2 172,63.7 172,62.1 174,60.4 174,58.6 176,56.7 176,54.7 178,52.8 178,50.8 180,48.8 180,46.9 182,45.0 182,43.1 184,41.3 184,39.6 186,37.8 186,36.1 188,34.4" fill="none" stroke="#6f8b8f" stroke-width="1.2"/><polyline points="64,106.4 66,106.2 66,106.0 68,105.7 68,105.5 70,105.3 70,105.0 72,104.7 72,104.5 74,104.2 74,103.9 76,103.7 76,103.4 78,103.1 78,102.8 80,102.4 80,102.1 82,101.8 82,101.5 84,101.1 84,100.8 86,100.4 86,100.1 88,99.7 88,99.4 90,99.0 90,98.7 92,98.3 92,97.9 94,97.6 94,97.2 96,96.8 96,96.3 98,95.9 98,95.5 100,95.0 100,94.5 102,94.0 102,93.4 104,92.8 104,92.1 106,91.4 106,90.8 108,90.1 108,89.4 110,88.7 110,88.1 112,87.4 112,86.7 114,86.0 114,85.3 116,84.6 116,83.9 118,83.2 118,82.5 120,81.8 120,81.2 122,80.6 122,80.0 124,79.5 124,79.0 126,78.5 126,78.0 128,77.6 128,77.1 130,76.8 130,76.4 132,76.1 132,75.8 134,75.6 134,75.3 136,75.1 136,74.8 138,74.6 138,74.4 140,74.2 140,73.9 142,73.7 142,73.5 144,73.3 144,73.1 146,72.9 146,72.7 148,72.5 148,72.2 150,72.0 150,71.7 152,71.4 152,71.0 154,70.5 154,70.0 156,69.3 156,68.5 158,67.7 158,66.9 160,66.0 160,65.0 162,63.9 162,62.8 164,61.4 164,60.0 166,58.5 166,56.9 168,55.1 168,53.1 170,50.8 170,48.2 172,45.5 172,42.8 174,40.1 174,37.5 176,35.2 176,32.9 178,30.7 178,28.6 180,26.4 180,24.3 182,22.2 182,20.0 184,17.9 184,15.7 186,13.5 186,11.3 188,9.1" fill="none" stroke="#1a1a1a" stroke-width="1.2"/><polyline points="64,106.4 66,106.2 66,106.0 68,105.7 68,105.5 70,105.3 70,105.0 72,104.7 72,104.5 74,104.2 74,103.9 76,103.7 76,103.4 78,103.1 78,102.8 80,102.4 80,102.1 82,101.8 82,101.5 84,101.1 84,100.8 86,100.4 86,100.1 88,99.7 88,99.4 90,99.0 90,98.7 92,98.3 92,97.9 94,97.6 94,97.2 96,96.8 96,96.4 98,95.9 98,95.5 100,95.0 100,94.5 102,94.0 102,93.4 104,92.8 104,92.2 106,91.6 106,90.9 108,90.2 108,89.5 110,88.7 110,88.0 112,87.2 112,86.3 114,85.3 114,84.2 116,83.1 116,81.9 118,80.6 118,79.4 120,78.1 120,77.0 122,75.8 122,74.8 124,73.9 124,73.2 126,72.6 126,72.2 128,71.8 128,71.3 130,71.0 130,70.8 132,70.6 132,70.6 134,70.6 134,70.6 136,70.7 136,70.7 138,70.8 138,70.8 140,70.8 140,70.9 142,70.9 142,71.0 144,71.0 144,71.0 146,71.0 146,70.9 148,70.6 148,70.2 150,69.8 150,69.3 152,68.7 152,68.1 154,67.5 154,66.8 156,66.1 156,65.5 158,64.9 158,64.2 160,63.5 160,62.7 162,61.9 162,61.1 164,60.1 164,59.1 166,58.1 166,56.9 168,55.7 168,54.3 170,52.4 170,50.2 172,47.8 172,45.1 174,42.4 174,39.6 176,37.0 176,34.7 178,32.6 178,30.7 180,28.9 180,27.2 182,25.4 182,23.7 184,21.8 184,19.8 186,17.7 186,15.4 188,13.2" fill="none" stroke="#d8401e" stroke-width="1.2"/><polyline points="64,106.4 66,106.2 66,106.0 68,105.7 68,105.5 70,105.3 70,105.0 72,104.7 72,104.5 74,104.2 74,103.9 76,103.7 76,103.4 78,103.1 78,102.8 80,102.4 80,102.1 82,101.8 82,101.5 84,101.1 84,100.8 86,100.4 86,100.1 88,99.8 88,99.4 90,99.1 90,98.8 92,98.5 92,98.1 94,97.8 94,97.4 96,97.0 96,96.6 98,96.1 98,95.6 100,95.0 100,94.4 102,93.7 102,92.7 104,91.6 104,90.3 106,89.0 106,87.5 108,86.0 108,84.5 110,83.0 110,81.5 112,80.1 112,78.7 114,77.5 114,76.4 116,75.4 116,74.6 118,73.8 118,73.0 120,72.2 120,71.4 122,70.7 122,70.0 124,69.3 124,68.7 126,68.2 126,67.7 128,67.4 128,67.1 130,67.0 130,67.0 132,67.0 132,67.1 134,67.2 134,67.3 136,67.5 136,67.6 138,67.8 138,67.9 140,68.0 140,68.2 142,68.3 142,68.4 144,68.5 144,68.5 146,68.5 146,68.4 148,68.3 148,68.2 150,68.0 150,67.8 152,67.5 152,67.3 154,67.0 154,66.7 156,66.3 156,65.9 158,65.4 158,64.8 160,64.1 160,63.4 162,62.6 162,61.7 164,60.7 164,59.7 166,58.7 166,57.6 168,56.4 168,55.0 170,53.3 170,51.4 172,49.4 172,47.3 174,45.2 174,43.0 176,40.9 176,38.9 178,37.1 178,35.3 180,33.5 180,31.7 182,29.9 182,28.1 184,26.3 184,24.6 186,22.9 186,21.1 188,19.4" fill="none" stroke="#8a5530" stroke-width="1.1"/><polyline points="64,106.4 66,106.2 66,106.0 68,105.7 68,105.5 70,105.3 70,105.0 72,104.7 72,104.5 74,104.2 74,103.9 76,103.7 76,103.4 78,103.1 78,102.8 80,102.4 80,102.1 82,101.8 82,101.5 84,101.1 84,100.8 86,100.4 86,100.1 88,99.8 88,99.4 90,99.1 90,98.8 92,98.5 92,98.1 94,97.8 94,97.4 96,97.0 96,96.5 98,96.1 98,95.6 100,95.0 100,94.4 102,93.7 102,92.7 104,91.6 104,90.4 106,89.1 106,87.7 108,86.2 108,84.6 110,83.1 110,81.5 112,80.0 112,78.5 114,77.1 114,75.7 116,74.5 116,73.4 118,72.4 118,71.6 120,70.8 120,70.0 122,69.2 122,68.4 124,67.7 124,67.0 126,66.4 126,65.9 128,65.5 128,65.2 130,65.0 130,65.0 132,65.0 132,65.1 134,65.2 134,65.4 136,65.5 136,65.7 138,65.8 138,66.0 140,66.2 140,66.4 142,66.6 142,66.7 144,66.8 144,67.0 146,67.0 146,67.1 148,67.2 148,67.3 150,67.4 150,67.4 152,67.5 152,67.5 154,67.5 154,67.4 156,67.1 156,66.7 158,66.3 158,65.7 160,65.1 160,64.4 162,63.7 162,62.9 164,62.1 164,61.3 166,60.4 166,59.5 168,58.5 168,57.2 170,55.8 170,54.2 172,52.6 172,50.9 174,49.2 174,47.5 176,45.8 176,44.2 178,42.6 178,41.0 180,39.3 180,37.7 182,36.0 182,34.3 184,32.6 184,30.9 186,29.1 186,27.4 188,25.6" fill="none" stroke="#5a6a30" stroke-width="1.1"/><polyline points="64,106.4 66,106.2 66,106.0 68,105.7 68,105.5 70,105.3 70,105.0 72,104.7 72,104.5 74,104.2 74,103.9 76,103.7 76,103.4 78,103.1 78,102.8 80,102.4 80,102.1 82,101.8 82,101.5 84,101.1 84,100.8 86,100.4 86,100.1 88,99.8 88,99.5 90,99.2 90,98.8 92,98.5 92,98.2 94,97.8 94,97.5 96,97.1 96,96.6 98,96.2 98,95.6 100,95.1 100,94.4 102,93.6 102,92.5 104,91.3 104,89.9 106,88.5 106,86.9 108,85.4 108,83.8 110,82.2 110,80.7 112,79.1 112,77.3 114,75.4 114,73.6 116,71.7 116,70.0 118,68.5 118,67.2 120,66.2 120,65.2 122,64.2 122,63.3 124,62.3 124,61.5 126,60.6 126,59.9 128,59.3 128,58.7 130,58.3 130,58.0 132,57.8 132,57.8 134,57.9 134,58.1 136,58.3 136,58.5 138,58.9 138,59.2 140,59.6 140,60.0 142,60.4 142,60.7 144,61.1 144,61.4 146,61.8 146,62.1 148,62.5 148,62.9 150,63.3 150,63.6 152,63.8 152,64.0 154,64.0 154,63.9 156,63.6 156,63.3 158,62.9 158,62.4 160,61.8 160,61.2 162,60.5 162,59.9 164,59.2 164,58.5 166,57.8 166,57.2 168,56.5 168,55.7 170,54.9 170,54.1 172,53.2 172,52.3 174,51.3 174,50.3 176,49.2 176,48.1 178,46.9 178,45.6 180,44.3 180,42.9 182,41.3 182,39.7 184,38.1 184,36.3 186,34.5 186,32.7 188,30.8" fill="none" stroke="#3fe010" stroke-width="1.25"/><polyline points="64,106.4 66,106.2 66,106.0 68,105.7 68,105.5 70,105.3 70,105.0 72,104.7 72,104.5 74,104.2 74,103.9 76,103.7 76,103.4 78,103.1 78,102.8 80,102.4 80,102.1 82,101.8 82,101.5 84,101.1 84,100.8 86,100.4 86,100.1 88,99.8 88,99.5 90,99.2 90,98.8 92,98.5 92,98.2 94,97.8 94,97.5 96,97.1 96,96.6 98,96.1 98,95.6 100,95.1 100,94.4 102,93.6 102,92.6 104,91.3 104,90.0 106,88.5 106,87.0 108,85.5 108,83.9 110,82.4 110,81.0 112,79.3 112,77.6 114,75.8 114,74.0 116,72.3 116,70.6 118,69.2 118,68.0 120,67.0 120,66.1 122,65.1 122,64.2 124,63.4 124,62.6 126,61.8 126,61.1 128,60.5 128,60.0 130,59.6 130,59.4 132,59.2 132,59.2 134,59.3 134,59.4 136,59.6 136,59.9 138,60.2 138,60.5 140,60.8 140,61.2 142,61.5 142,61.8 144,62.2 144,62.5 146,62.7 146,63.1 148,63.4 148,63.7 150,64.1 150,64.4 152,64.6 152,64.7 154,64.7 154,64.6 156,64.3 156,64.0 158,63.6 158,63.1 160,62.5 160,62.0 162,61.3 162,60.7 164,60.0 164,59.4 166,58.8 166,58.2 168,57.6 168,57.0 170,56.4 170,55.7 172,55.0 172,54.3 174,53.5 174,52.7 176,51.9 176,51.0 178,50.0 178,48.9 180,47.8 180,46.5 182,45.2 182,43.8 184,42.3 184,40.8 186,39.2 186,37.5 188,35.8" fill="none" stroke="#3fe010" stroke-width="1.25"/><polyline points="64,106.4 66,106.2 66,106.0 68,105.7 68,105.5 70,105.3 70,105.0 72,104.7 72,104.5 74,104.2 74,103.9 76,103.7 76,103.4 78,103.1 78,102.8 80,102.4 80,102.1 82,101.8 82,101.5 84,101.1 84,100.8 86,100.4 86,100.1 88,99.8 88,99.5 90,99.2 90,98.8 92,98.5 92,98.2 94,97.8 94,97.5 96,97.1 96,96.6 98,96.1 98,95.6 100,95.1 100,94.4 102,93.6 102,92.6 104,91.4 104,90.0 106,88.6 106,87.1 108,85.6 108,84.1 110,82.6 110,81.2 112,79.6 112,77.9 114,76.2 114,74.5 116,72.8 116,71.2 118,69.8 118,68.7 120,67.8 120,66.9 122,66.1 122,65.2 124,64.4 124,63.7 126,63.0 126,62.4 128,61.8 128,61.4 130,61.0 130,60.7 132,60.6 132,60.6 134,60.7 134,60.8 136,61.0 136,61.2 138,61.5 138,61.7 140,62.0 140,62.3 142,62.6 142,62.9 144,63.2 144,63.5 146,63.7 146,64.0 148,64.3 148,64.6 150,64.9 150,65.1 152,65.3 152,65.4 154,65.4 154,65.3 156,65.0 156,64.7 158,64.3 158,63.8 160,63.3 160,62.7 162,62.1 162,61.5 164,60.9 164,60.3 166,59.8 166,59.3 168,58.8 168,58.3 170,57.8 170,57.3 172,56.8 172,56.3 174,55.7 174,55.1 176,54.5 176,53.8 178,53.1 178,52.4 180,51.5 180,50.7 182,49.7 182,48.7 184,47.7 184,46.6 186,45.5 186,44.3 188,43.1" fill="none" stroke="#3fe010" stroke-width="1.25"/><polyline points="64,106.4 66,106.2 66,106.0 68,105.7 68,105.5 70,105.3 70,105.0 72,104.7 72,104.5 74,104.2 74,103.9 76,103.7 76,103.4 78,103.1 78,102.8 80,102.4 80,102.1 82,101.8 82,101.5 84,101.1 84,100.8 86,100.4 86,100.1 88,99.8 88,99.5 90,99.1 90,98.8 92,98.5 92,98.2 94,97.8 94,97.5 96,97.0 96,96.6 98,96.1 98,95.6 100,95.1 100,94.4 102,93.6 102,92.6 104,91.4 104,90.1 106,88.7 106,87.2 108,85.7 108,84.2 110,82.8 110,81.4 112,79.9 112,78.3 114,76.6 114,74.9 116,73.3 116,71.8 118,70.5 118,69.4 120,68.6 120,67.8 122,67.0 122,66.2 124,65.5 124,64.8 126,64.2 126,63.6 128,63.1 128,62.7 130,62.4 130,62.1 132,62.0 132,62.0 134,62.1 134,62.2 136,62.3 136,62.5 138,62.7 138,63.0 140,63.2 140,63.5 142,63.8 142,64.0 144,64.3 144,64.5 146,64.7 146,64.9 148,65.2 148,65.4 150,65.7 150,65.9 152,66.0 152,66.1 154,66.1 154,65.9 156,65.7 156,65.4 158,64.9 158,64.4 160,63.9 160,63.3 162,62.7 162,62.2 164,61.6 164,61.1 166,60.7 166,60.3 168,60.0 168,59.7 170,59.4 170,59.1 172,58.8 172,58.5 174,58.2 174,57.9 176,57.6 176,57.2 178,56.8 178,56.3 180,55.8 180,55.3 182,54.7 182,54.1 184,53.4 184,52.8 186,52.1 186,51.3 188,50.6" fill="none" stroke="#3fe010" stroke-width="1.25"/><polyline points="64,106.4 66,106.2 66,106.0 68,105.7 68,105.5 70,105.3 70,105.0 72,104.7 72,104.5 74,104.2 74,103.9 76,103.7 76,103.4 78,103.1 78,102.8 80,102.4 80,102.1 82,101.8 82,101.5 84,101.1 84,100.8 86,100.4 86,100.1 88,99.8 88,99.5 90,99.1 90,98.8 92,98.5 92,98.2 94,97.8 94,97.4 96,97.0 96,96.6 98,96.1 98,95.6 100,95.1 100,94.4 102,93.6 102,92.6 104,91.4 104,90.1 106,88.7 106,87.3 108,85.8 108,84.4 110,83.0 110,81.6 112,80.1 112,78.6 114,77.0 114,75.4 116,73.8 116,72.4 118,71.2 118,70.1 120,69.4 120,68.6 122,67.9 122,67.2 124,66.6 124,65.9 126,65.4 126,64.8 128,64.4 128,64.0 130,63.7 130,63.5 132,63.4 132,63.4 134,63.5 134,63.6 136,63.7 136,63.8 138,64.0 138,64.2 140,64.5 140,64.7 142,64.9 142,65.1 144,65.3 144,65.5 146,65.7 146,65.9 148,66.1 148,66.3 150,66.4 150,66.6 152,66.7 152,66.8 154,66.8 154,66.6 156,66.4 156,66.0 158,65.5 158,65.0 160,64.5 160,63.9 162,63.4 162,62.8 164,62.3 164,61.9 166,61.6 166,61.4 168,61.2 168,61.1 170,61.0 170,60.8 172,60.7 172,60.6 174,60.5 174,60.4 176,60.3 176,60.1 178,59.9 178,59.7 180,59.4 180,59.2 182,58.9 182,58.5 184,58.2 184,57.9 186,57.5 186,57.1 188,56.7" fill="none" stroke="#3fe010" stroke-width="1.25"/><polyline points="64,106.4 66,106.2 66,106.0 68,105.7 68,105.5 70,105.3 70,105.0 72,104.7 72,104.5 74,104.2 74,103.9 76,103.7 76,103.4 78,103.1 78,102.8 80,102.4 80,102.1 82,101.8 82,101.5 84,101.1 84,100.8 86,100.4 86,100.1 88,99.8 88,99.5 90,99.1 90,98.8 92,98.5 92,98.2 94,97.8 94,97.4 96,97.0 96,96.6 98,96.1 98,95.6 100,95.1 100,94.4 102,93.6 102,92.6 104,91.5 104,90.2 106,88.8 106,87.4 108,85.9 108,84.5 110,83.2 110,81.8 112,80.4 112,78.9 114,77.4 114,75.8 116,74.4 116,73.0 118,71.8 118,70.9 120,70.2 120,69.5 122,68.8 122,68.2 124,67.6 124,67.1 126,66.5 126,66.1 128,65.7 128,65.3 130,65.1 130,64.9 132,64.8 132,64.8 134,64.8 134,64.9 136,65.0 136,65.2 138,65.3 138,65.5 140,65.7 140,65.9 142,66.0 142,66.2 144,66.4 144,66.5 146,66.7 146,66.8 148,67.0 148,67.1 150,67.2 150,67.4 152,67.4 152,67.5 154,67.5 154,67.3 156,67.1 156,66.7 158,66.3 158,65.8 160,65.2 160,64.7 162,64.2 162,63.7 164,63.2 164,62.9 166,62.6 166,62.4 168,62.3 168,62.2 170,62.1 170,62.0 172,62.0 172,61.9 174,61.8 174,61.8 176,61.7 176,61.6 178,61.4 178,61.3 180,61.1 180,60.9 182,60.7 182,60.5 184,60.2 184,60.0 186,59.7 186,59.4 188,59.1" fill="none" stroke="#3fe010" stroke-width="1.25"/></g><rect x="64.5" y="18.7" width="123.0" height="91.7" fill="none" stroke="#777" stroke-width="1"/><line x1="94.8" y1="110.4" x2="94.8" y2="108.4" stroke="#777" stroke-width="1"/><text x="94.8" y="118.5" text-anchor="middle" font-family='"Liberation Sans", sans-serif' font-weight="normal" font-size="7" fill="#111" style="font-weight:bold" stroke="#111" stroke-width="0.1">7112.5</text><line x1="125.5" y1="110.4" x2="125.5" y2="108.4" stroke="#777" stroke-width="1"/><text x="125.5" y="118.5" text-anchor="middle" font-family='"Liberation Sans", sans-serif' font-weight="normal" font-size="7" fill="#111" style="font-weight:bold" stroke="#111" stroke-width="0.1">7115.0</text><line x1="156.2" y1="110.4" x2="156.2" y2="108.4" stroke="#777" stroke-width="1"/><text x="156.2" y="118.5" text-anchor="middle" font-family='"Liberation Sans", sans-serif' font-weight="normal" font-size="7" fill="#111" style="font-weight:bold" stroke="#111" stroke-width="0.1">7117.5</text><line x1="79.5" y1="110.4" x2="79.5" y2="109.2" stroke="#777" stroke-width="1"/><line x1="110.2" y1="110.4" x2="110.2" y2="109.2" stroke="#777" stroke-width="1"/><line x1="140.9" y1="110.4" x2="140.9" y2="109.2" stroke="#777" stroke-width="1"/><line x1="171.6" y1="110.4" x2="171.6" y2="109.2" stroke="#777" stroke-width="1"/><line x1="122.4" y1="80.1" x2="137" y2="56" stroke="#111" stroke-width="1.1"/><polygon points="138.6,53 134.4,57.4 138.2,59.6" fill="#111"/><text x="113.5" y="48.6" font-family='"Liberation Sans", sans-serif' font-size="8.1" fill="#111" stroke="#111" stroke-width="0.2">reaction time t<tspan font-size="4.6" dy="2">R</tspan></text><text x="109.5" y="100.8" font-family='"Liberation Sans", sans-serif' font-size="9.3" fill="#111" stroke="#111" stroke-width="0.15">Fe<tspan font-size="4.8" dy="2" stroke-width="0.1">precursor</tspan></text><text x="193" y="113" font-family='"Liberation Sans", sans-serif' font-size="9" fill="#111" stroke="#111" stroke-width="0.15">Fe<tspan font-size="4.6" dy="2.3" stroke-width="0.08">precursor</tspan></text><line x1="229.5" y1="110.9" x2="263" y2="110.9" stroke="#111" stroke-width="1.2"/><polygon points="268.8,110.9 262,108.4 262,113.4" fill="#111"/><text x="270.5" y="113.7" font-family='"Liberation Sans", sans-serif' font-size="8" fill="#111" stroke="#111" stroke-width="0.2">reaction time t<tspan font-size="5" dy="2.5">R</tspan></text><rect x="234.3" y="160.8" width="92.4" height="13.3" fill="#fff" stroke="#8a9696" stroke-width="1.3"/><rect x="237" y="163" width="88.6" height="8.5" fill="#222"/><rect x="237.7" y="163.7" width="11.4" height="7.1" fill="#7f9294"/><rect x="249.1" y="163.7" width="6.2" height="7.1" fill="#101010"/><rect x="255.3" y="163.7" width="7" height="7.1" fill="#cf3a22"/><rect x="262.2" y="163.7" width="12.3" height="7.1" fill="#9a4a2a"/><rect x="274.4" y="163.7" width="12.4" height="7.1" fill="#5a8a2e"/><rect x="286.8" y="163.7" width="7" height="7.1" fill="#5ccc2a"/><rect x="293.8" y="163.7" width="31.2" height="7.1" fill="#4fe61c"/><line x1="253.3" y1="175.6" x2="253.3" y2="179.6" stroke="#444" stroke-width="0.9"/><text x="253.3" y="188" text-anchor="middle" font-family='"Liberation Sans", sans-serif' font-size="7.6" fill="#222" stroke="#222" stroke-width="0.2">0</text><line x1="259.9" y1="175.6" x2="259.9" y2="179.6" stroke="#444" stroke-width="0.9"/><text x="259.9" y="188" text-anchor="middle" font-family='"Liberation Sans", sans-serif' font-size="7.6" fill="#222" stroke="#222" stroke-width="0.2">7</text><line x1="271.3" y1="175.6" x2="271.3" y2="179.6" stroke="#444" stroke-width="0.9"/><text x="271.3" y="188" text-anchor="middle" font-family='"Liberation Sans", sans-serif' font-size="7.6" fill="#222" stroke="#222" stroke-width="0.2">21</text><line x1="283.5" y1="175.6" x2="283.5" y2="179.6" stroke="#444" stroke-width="0.9"/><text x="283.5" y="188" text-anchor="middle" font-family='"Liberation Sans", sans-serif' font-size="7.6" fill="#222" stroke="#222" stroke-width="0.2">33</text><line x1="296.8" y1="175.6" x2="296.8" y2="179.6" stroke="#444" stroke-width="0.9"/><text x="296.8" y="188" text-anchor="middle" font-family='"Liberation Sans", sans-serif' font-size="7.6" fill="#222" stroke="#222" stroke-width="0.2">51</text><line x1="309.4" y1="175.6" x2="309.4" y2="179.6" stroke="#444" stroke-width="0.9"/><text x="309.4" y="188" text-anchor="middle" font-family='"Liberation Sans", sans-serif' font-size="7.6" fill="#222" stroke="#222" stroke-width="0.2">71</text><line x1="322.6" y1="175.6" x2="322.6" y2="179.6" stroke="#444" stroke-width="0.9"/><text x="322.6" y="188" text-anchor="middle" font-family='"Liberation Sans", sans-serif' font-size="7.6" fill="#222" stroke="#222" stroke-width="0.2">91</text><line x1="249" y1="194" x2="321" y2="194" stroke="#888" stroke-width="1.2"/><polygon points="325.5,194 319.5,191.8 319.5,196.2" fill="#222"/><text x="249.7" y="203.8" font-family='"Liberation Sans", sans-serif' font-size="8.1" fill="#111" stroke="#111" stroke-width="0.2">reaction time t<tspan font-size="5" dy="2">R</tspan><tspan dy="-2"> (min)</tspan></text><rect x="78.6" y="259.2" width="49.400000000000006" height="214.40000000000003" fill="#f5f7f7"/><rect x="128" y="259.2" width="206.3" height="214.40000000000003" fill="#edf1f1"/><clipPath id="cb"><rect x="46.5" y="259.2" width="287.8" height="214.40000000000003"/></clipPath><g clip-path="url(#cb)"><polyline points="47.4,451.6 58.2,446 78,421.5 95.1,403.4 112.4,378.2 129.3,360 146.4,360 163.2,347.5 191.8,341.4 220.2,341.6 248.6,322.9 277.1,317.1 305.4,311.1 333.2,280.7" fill="none" stroke="#7fa3a3" stroke-width="1.1"/><polyline points="47.4,428.2 58.2,418 78,415.2 95.1,382.7 112.4,352.2 129.3,329.6 146.4,321.8 163.2,314.3 191.8,309 220.2,309.4 248.6,301.4 277.1,291.4 305.4,276.4 333.2,274.0" fill="none" stroke="#4a4a4a" stroke-width="1"/><circle cx="47.4" cy="451.6" r="2.8" fill="#628385"/><circle cx="58.2" cy="446" r="2.8" fill="#628385"/><circle cx="78" cy="421.5" r="2.8" fill="#628385"/><circle cx="95.1" cy="403.4" r="2.8" fill="#628385"/><circle cx="112.4" cy="378.2" r="2.8" fill="#628385"/><circle cx="129.3" cy="360" r="2.8" fill="#628385"/><circle cx="146.4" cy="360" r="2.8" fill="#628385"/><circle cx="163.2" cy="347.5" r="2.8" fill="#628385"/><circle cx="191.8" cy="341.4" r="2.8" fill="#628385"/><circle cx="220.2" cy="341.6" r="2.8" fill="#628385"/><circle cx="248.6" cy="322.9" r="2.8" fill="#628385"/><circle cx="277.1" cy="317.1" r="2.8" fill="#628385"/><circle cx="305.4" cy="311.1" r="2.8" fill="#628385"/><circle cx="333.2" cy="280.7" r="2.8" fill="#628385"/><rect x="44.8" y="425.59999999999997" width="5.2" height="5.2" fill="#0a0a0a"/><rect x="55.6" y="415.4" width="5.2" height="5.2" fill="#0a0a0a"/><rect x="75.4" y="412.59999999999997" width="5.2" height="5.2" fill="#0a0a0a"/><rect x="92.5" y="380.09999999999997" width="5.2" height="5.2" fill="#0a0a0a"/><rect x="109.80000000000001" y="349.59999999999997" width="5.2" height="5.2" fill="#0a0a0a"/><rect x="126.70000000000002" y="327.0" width="5.2" height="5.2" fill="#0a0a0a"/><rect x="143.8" y="319.2" width="5.2" height="5.2" fill="#0a0a0a"/><rect x="160.6" y="311.7" width="5.2" height="5.2" fill="#0a0a0a"/><rect x="189.20000000000002" y="306.4" width="5.2" height="5.2" fill="#0a0a0a"/><rect x="217.6" y="306.79999999999995" width="5.2" height="5.2" fill="#0a0a0a"/><rect x="246.0" y="298.79999999999995" width="5.2" height="5.2" fill="#0a0a0a"/><rect x="274.5" y="288.79999999999995" width="5.2" height="5.2" fill="#0a0a0a"/><rect x="302.79999999999995" y="273.79999999999995" width="5.2" height="5.2" fill="#0a0a0a"/><rect x="330.59999999999997" y="271.4" width="5.2" height="5.2" fill="#0a0a0a"/></g><line x1="46.5" y1="259.2" x2="334.3" y2="259.2" stroke="#333" stroke-width="1.2"/><line x1="46.5" y1="259.2" x2="46.5" y2="473.6" stroke="#222" stroke-width="1.2"/><line x1="46.5" y1="473.6" x2="334.3" y2="473.6" stroke="#222" stroke-width="1.2"/><line x1="334.3" y1="259.2" x2="334.3" y2="473.6" stroke="#5f7e82" stroke-width="1.2"/><line x1="42.3" y1="473.6" x2="46.5" y2="473.6" stroke="#222" stroke-width="1.2"/><text x="39" y="477.20000000000005" text-anchor="end" font-family='"Liberation Sans", sans-serif' font-weight="bold" font-size="10" fill="#111" stroke="#111" stroke-width="0.3">0.00</text><line x1="42.3" y1="448.31" x2="46.5" y2="448.31" stroke="#222" stroke-width="1.2"/><text x="39" y="451.91" text-anchor="end" font-family='"Liberation Sans", sans-serif' font-weight="bold" font-size="10" fill="#111" stroke="#111" stroke-width="0.3">0.01</text><line x1="42.3" y1="423.02000000000004" x2="46.5" y2="423.02000000000004" stroke="#222" stroke-width="1.2"/><text x="39" y="426.62000000000006" text-anchor="end" font-family='"Liberation Sans", sans-serif' font-weight="bold" font-size="10" fill="#111" stroke="#111" stroke-width="0.3">0.02</text><line x1="42.3" y1="397.73" x2="46.5" y2="397.73" stroke="#222" stroke-width="1.2"/><text x="39" y="401.33000000000004" text-anchor="end" font-family='"Liberation Sans", sans-serif' font-weight="bold" font-size="10" fill="#111" stroke="#111" stroke-width="0.3">0.03</text><line x1="42.3" y1="372.44000000000005" x2="46.5" y2="372.44000000000005" stroke="#222" stroke-width="1.2"/><text x="39" y="376.0400000000001" text-anchor="end" font-family='"Liberation Sans", sans-serif' font-weight="bold" font-size="10" fill="#111" stroke="#111" stroke-width="0.3">0.04</text><line x1="42.3" y1="347.15000000000003" x2="46.5" y2="347.15000000000003" stroke="#222" stroke-width="1.2"/><text x="39" y="350.75000000000006" text-anchor="end" font-family='"Liberation Sans", sans-serif' font-weight="bold" font-size="10" fill="#111" stroke="#111" stroke-width="0.3">0.05</text><line x1="42.3" y1="321.86" x2="46.5" y2="321.86" stroke="#222" stroke-width="1.2"/><text x="39" y="325.46000000000004" text-anchor="end" font-family='"Liberation Sans", sans-serif' font-weight="bold" font-size="10" fill="#111" stroke="#111" stroke-width="0.3">0.06</text><line x1="42.3" y1="296.57" x2="46.5" y2="296.57" stroke="#222" stroke-width="1.2"/><text x="39" y="300.17" text-anchor="end" font-family='"Liberation Sans", sans-serif' font-weight="bold" font-size="10" fill="#111" stroke="#111" stroke-width="0.3">0.07</text><line x1="42.3" y1="271.28000000000003" x2="46.5" y2="271.28000000000003" stroke="#222" stroke-width="1.2"/><text x="39" y="274.88000000000005" text-anchor="end" font-family='"Liberation Sans", sans-serif' font-weight="bold" font-size="10" fill="#111" stroke="#111" stroke-width="0.3">0.08</text><line x1="44" y1="460.95500000000004" x2="46.5" y2="460.95500000000004" stroke="#222" stroke-width="1.2"/><line x1="44" y1="435.665" x2="46.5" y2="435.665" stroke="#222" stroke-width="1.2"/><line x1="44" y1="410.375" x2="46.5" y2="410.375" stroke="#222" stroke-width="1.2"/><line x1="44" y1="385.08500000000004" x2="46.5" y2="385.08500000000004" stroke="#222" stroke-width="1.2"/><line x1="44" y1="359.795" x2="46.5" y2="359.795" stroke="#222" stroke-width="1.2"/><line x1="44" y1="334.505" x2="46.5" y2="334.505" stroke="#222" stroke-width="1.2"/><line x1="44" y1="309.21500000000003" x2="46.5" y2="309.21500000000003" stroke="#222" stroke-width="1.2"/><line x1="44" y1="283.92499999999995" x2="46.5" y2="283.92499999999995" stroke="#222" stroke-width="1.2"/><line x1="44" y1="258.635" x2="46.5" y2="258.635" stroke="#222" stroke-width="1.2"/><line x1="44" y1="259.2" x2="46.5" y2="259.2" stroke="#222" stroke-width="1.2"/><line x1="334.3" y1="458.3" x2="338.5" y2="458.3" stroke="#5f7e82" stroke-width="1.2"/><text x="341.5" y="461.90000000000003" font-family='"Liberation Sans", sans-serif' font-weight="bold" font-size="10" fill="#5a7a7e" stroke="#5a7a7e" stroke-width="0.3">7124.0</text><line x1="334.3" y1="427.6" x2="338.5" y2="427.6" stroke="#5f7e82" stroke-width="1.2"/><text x="341.5" y="431.20000000000005" font-family='"Liberation Sans", sans-serif' font-weight="bold" font-size="10" fill="#5a7a7e" stroke="#5a7a7e" stroke-width="0.3">7124.5</text><line x1="334.3" y1="396.90000000000003" x2="338.5" y2="396.90000000000003" stroke="#5f7e82" stroke-width="1.2"/><text x="341.5" y="400.50000000000006" font-family='"Liberation Sans", sans-serif' font-weight="bold" font-size="10" fill="#5a7a7e" stroke="#5a7a7e" stroke-width="0.3">7125.0</text><line x1="334.3" y1="366.20000000000005" x2="338.5" y2="366.20000000000005" stroke="#5f7e82" stroke-width="1.2"/><text x="341.5" y="369.80000000000007" font-family='"Liberation Sans", sans-serif' font-weight="bold" font-size="10" fill="#5a7a7e" stroke="#5a7a7e" stroke-width="0.3">7125.5</text><line x1="334.3" y1="335.5" x2="338.5" y2="335.5" stroke="#5f7e82" stroke-width="1.2"/><text x="341.5" y="339.1" font-family='"Liberation Sans", sans-serif' font-weight="bold" font-size="10" fill="#5a7a7e" stroke="#5a7a7e" stroke-width="0.3">7126.0</text><line x1="334.3" y1="304.8" x2="338.5" y2="304.8" stroke="#5f7e82" stroke-width="1.2"/><text x="341.5" y="308.40000000000003" font-family='"Liberation Sans", sans-serif' font-weight="bold" font-size="10" fill="#5a7a7e" stroke="#5a7a7e" stroke-width="0.3">7126.5</text><line x1="334.3" y1="274.1" x2="338.5" y2="274.1" stroke="#5f7e82" stroke-width="1.2"/><text x="341.5" y="277.70000000000005" font-family='"Liberation Sans", sans-serif' font-weight="bold" font-size="10" fill="#5a7a7e" stroke="#5a7a7e" stroke-width="0.3">7127.0</text><line x1="334.3" y1="473.65000000000003" x2="336.5" y2="473.65000000000003" stroke="#5f7e82" stroke-width="1.2"/><line x1="334.3" y1="442.95" x2="336.5" y2="442.95" stroke="#5f7e82" stroke-width="1.2"/><line x1="334.3" y1="412.25" x2="336.5" y2="412.25" stroke="#5f7e82" stroke-width="1.2"/><line x1="334.3" y1="381.55" x2="336.5" y2="381.55" stroke="#5f7e82" stroke-width="1.2"/><line x1="334.3" y1="350.85" x2="336.5" y2="350.85" stroke="#5f7e82" stroke-width="1.2"/><line x1="334.3" y1="320.15" x2="336.5" y2="320.15" stroke="#5f7e82" stroke-width="1.2"/><line x1="334.3" y1="289.45000000000005" x2="336.5" y2="289.45000000000005" stroke="#5f7e82" stroke-width="1.2"/><line x1="46.88999999999999" y1="473.6" x2="46.88999999999999" y2="477.8" stroke="#222" stroke-width="1.2"/><line x1="103.71000000000001" y1="473.6" x2="103.71000000000001" y2="477.8" stroke="#222" stroke-width="1.2"/><line x1="160.53" y1="473.6" x2="160.53" y2="477.8" stroke="#222" stroke-width="1.2"/><line x1="217.35000000000002" y1="473.6" x2="217.35000000000002" y2="477.8" stroke="#222" stroke-width="1.2"/><line x1="274.17" y1="473.6" x2="274.17" y2="477.8" stroke="#222" stroke-width="1.2"/><line x1="330.99" y1="473.6" x2="330.99" y2="477.8" stroke="#222" stroke-width="1.2"/><line x1="75.3" y1="473.6" x2="75.3" y2="476.0" stroke="#222" stroke-width="1.2"/><line x1="132.12" y1="473.6" x2="132.12" y2="476.0" stroke="#222" stroke-width="1.2"/><line x1="188.94" y1="473.6" x2="188.94" y2="476.0" stroke="#222" stroke-width="1.2"/><line x1="245.76" y1="473.6" x2="245.76" y2="476.0" stroke="#222" stroke-width="1.2"/><line x1="302.58000000000004" y1="473.6" x2="302.58000000000004" y2="476.0" stroke="#222" stroke-width="1.2"/><text x="73.3" y="488.2" text-anchor="middle" font-family='"Liberation Sans", sans-serif' font-weight="bold" font-size="10" fill="#111" stroke="#111" stroke-width="0.3">0</text><text x="102.51" y="488.2" text-anchor="middle" font-family='"Liberation Sans", sans-serif' font-weight="bold" font-size="10" fill="#111" stroke="#111" stroke-width="0.3">10</text><text x="160.53" y="488.2" text-anchor="middle" font-family='"Liberation Sans", sans-serif' font-weight="bold" font-size="10" fill="#111" stroke="#111" stroke-width="0.3">30</text><text x="217.35000000000002" y="488.2" text-anchor="middle" font-family='"Liberation Sans", sans-serif' font-weight="bold" font-size="10" fill="#111" stroke="#111" stroke-width="0.3">50</text><text x="274.17" y="488.2" text-anchor="middle" font-family='"Liberation Sans", sans-serif' font-weight="bold" font-size="10" fill="#111" stroke="#111" stroke-width="0.3">70</text><text x="330.99" y="488.2" text-anchor="middle" font-family='"Liberation Sans", sans-serif' font-weight="bold" font-size="10" fill="#111" stroke="#111" stroke-width="0.3">90</text><text x="190.5" y="503" text-anchor="middle" font-family='"Liberation Sans", sans-serif' font-size="12.5" fill="#111" stroke="#111" stroke-width="0.2">Time (min)</text><text x="3" y="274.5" font-family='"Liberation Serif", serif' font-weight="bold" font-size="12" fill="#111" stroke="#111" stroke-width="0.3">b)</text><text transform="translate(11.9,351.4) rotate(-90)" text-anchor="middle" font-family='"Liberation Sans", sans-serif' font-size="12.3" fill="#111" stroke="#111" stroke-width="0.2">Integrated peak area (a.u.)</text><rect x="4" y="436" width="6.8" height="6" fill="#111"/><text transform="translate(388.2,350.2) rotate(-90)" text-anchor="middle" font-family='"Liberation Sans", sans-serif' font-size="12.4" fill="#62828a" stroke="#62828a" stroke-width="0.2">Absorption edge position (eV)</text><circle cx="383.6" cy="438.3" r="3.4" fill="#b3c2c2" stroke="#5f7e82" stroke-width="1.1"/><text x="59.5" y="329.8" font-family='"Liberation Sans", sans-serif' font-size="11.5" fill="#111" stroke="#111" stroke-width="0.2">TREA</text><text x="59.5" y="344.2" font-family='"Liberation Sans", sans-serif' font-size="11" fill="#111" stroke="#111" stroke-width="0.2">addition</text><line x1="76" y1="350" x2="76" y2="388" stroke="#333" stroke-width="1.6"/><polygon points="76,394.5 73.6,386.5 78.4,386.5" fill="#222"/><polyline points="50.8,458 50.8,464.6 96.1,464.6" fill="none" stroke="#111" stroke-width="1.3"/><polygon points="50.8,453 48.5,460 53.1,460" fill="#111"/><text x="99" y="467.3" font-family='"Liberation Sans", sans-serif' font-size="11.3" fill="#111" stroke="#111" stroke-width="0.2">start heating period (115 °C)</text></svg></body></html>
